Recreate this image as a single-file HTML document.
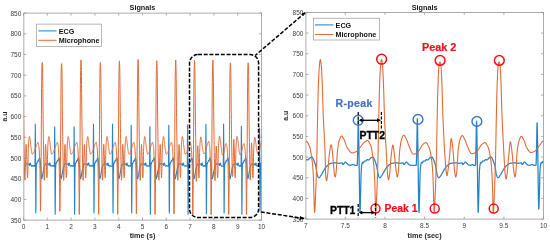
<!DOCTYPE html>
<html lang="en"><head><meta charset="utf-8"><title>Signals</title>
<style>html,body{margin:0;padding:0;background:#fff;}svg{display:block;}text{font-family:'Liberation Sans', Arial, sans-serif;}.tk{font-size:6.5px;fill:#3c3c3c;}.b{font-weight:bold;}</style></head><body>
<svg width="550" height="243" viewBox="0 0 550 243">
<rect width="550" height="243" fill="#ffffff"/>
<g>
<clipPath id="cl"><rect x="23.85" y="13.1" width="237.75" height="207.00"/></clipPath>
<g clip-path="url(#cl)" fill="none" stroke-linejoin="round">
<path d="M23.50 173.18 L23.60 172.61 L23.69 172.08 L23.79 171.56 L23.88 171.04 L23.98 170.52 L24.07 170.00 L24.17 169.49 L24.26 169.00 L24.36 168.53 L24.45 168.09 L24.55 167.69 L24.64 167.34 L24.74 167.03 L24.83 166.73 L24.93 166.44 L25.02 166.15 L25.12 165.88 L25.21 165.62 L25.31 165.37 L25.40 165.13 L25.50 164.92 L25.59 164.73 L25.69 164.56 L25.78 164.42 L25.88 164.31 L25.98 164.23 L26.07 164.17 L26.17 164.12 L26.26 164.07 L26.36 164.03 L26.45 163.99 L26.55 163.95 L26.64 163.91 L26.74 163.88 L26.83 163.86 L26.93 163.84 L27.02 163.82 L27.12 163.81 L27.21 163.80 L27.31 163.80 L27.40 163.81 L27.50 163.83 L27.59 163.86 L27.69 163.90 L27.78 163.95 L27.88 164.00 L27.97 164.04 L28.07 164.09 L28.16 164.13 L28.26 164.17 L28.36 164.19 L28.45 164.21 L28.55 164.21 L28.64 164.17 L28.74 164.12 L28.83 164.05 L28.93 163.98 L29.02 163.91 L29.12 163.85 L29.21 163.81 L29.31 163.80 L29.40 164.21 L29.50 164.97 L29.59 165.44 L29.69 165.31 L29.78 164.92 L29.88 164.45 L29.97 164.06 L30.07 163.63 L30.16 163.23 L30.26 162.99 L30.35 163.01 L30.45 163.20 L30.54 163.51 L30.64 163.85 L30.74 164.18 L30.83 164.49 L30.93 164.86 L31.02 165.24 L31.12 165.57 L31.21 165.80 L31.31 165.92 L31.40 166.01 L31.50 166.08 L31.59 166.14 L31.69 166.18 L31.78 166.20 L31.88 166.17 L31.97 166.10 L32.07 165.99 L32.16 165.86 L32.26 165.72 L32.35 165.60 L32.45 165.51 L32.54 165.46 L32.64 165.47 L32.73 165.53 L32.83 165.64 L32.92 165.76 L33.02 165.90 L33.12 166.03 L33.21 166.13 L33.31 166.19 L33.40 166.19 L33.50 166.14 L33.59 166.04 L33.69 165.91 L33.78 165.78 L33.88 165.65 L33.97 165.54 L34.07 165.47 L34.16 165.47 L34.26 165.80 L34.35 166.20 L34.45 166.28 L34.54 166.28 L34.64 166.28 L34.73 166.28 L34.83 166.28 L34.92 166.28 L35.02 164.46 L35.11 153.08 L35.21 137.71 L35.30 124.05 L35.40 133.69 L35.50 149.97 L35.59 172.69 L35.69 197.20 L35.78 212.87 L35.88 210.84 L35.97 198.30 L36.07 185.18 L36.16 173.00 L36.26 168.45 L36.35 165.93 L36.45 164.34 L36.54 163.43 L36.64 163.47 L36.73 163.70 L36.83 163.77 L36.92 163.27 L37.02 162.54 L37.11 162.13 L37.21 162.03 L37.30 161.97 L37.40 161.93 L37.49 161.89 L37.59 161.84 L37.68 161.75 L37.78 161.49 L37.88 160.95 L37.97 160.53 L38.07 160.50 L38.16 160.60 L38.26 160.72 L38.35 160.84 L38.45 160.90 L38.54 160.81 L38.64 160.52 L38.73 160.12 L38.83 159.67 L38.92 159.25 L39.02 158.92 L39.11 158.73 L39.21 158.55 L39.30 158.39 L39.40 158.25 L39.49 158.13 L39.59 158.05 L39.68 158.00 L39.78 158.07 L39.87 158.42 L39.97 159.00 L40.06 159.73 L40.16 160.52 L40.26 161.28 L40.35 162.04 L40.45 162.87 L40.54 163.78 L40.64 164.78 L40.73 165.88 L40.83 167.08 L40.92 168.54 L41.02 170.57 L41.11 172.79 L41.21 174.79 L41.30 176.15 L41.40 176.95 L41.49 177.67 L41.59 178.24 L41.68 178.60 L41.78 178.70 L41.87 178.57 L41.97 178.29 L42.06 177.90 L42.16 177.45 L42.25 176.98 L42.35 176.54 L42.44 176.07 L42.54 175.54 L42.64 174.98 L42.73 174.38 L42.83 173.78 L42.92 173.18 L43.02 172.61 L43.11 172.08 L43.21 171.56 L43.30 171.04 L43.40 170.52 L43.49 170.00 L43.59 169.49 L43.68 169.00 L43.78 168.53 L43.87 168.09 L43.97 167.69 L44.06 167.34 L44.16 167.03 L44.25 166.73 L44.35 166.44 L44.44 166.15 L44.54 165.88 L44.63 165.62 L44.73 165.37 L44.82 165.13 L44.92 164.92 L45.02 164.73 L45.11 164.56 L45.21 164.42 L45.30 164.31 L45.40 164.23 L45.49 164.17 L45.59 164.12 L45.68 164.07 L45.78 164.03 L45.87 163.99 L45.97 163.95 L46.06 163.91 L46.16 163.88 L46.25 163.86 L46.35 163.84 L46.44 163.82 L46.54 163.81 L46.63 163.80 L46.73 163.80 L46.82 163.81 L46.92 163.83 L47.01 163.86 L47.11 163.90 L47.20 163.95 L47.30 164.00 L47.40 164.04 L47.49 164.09 L47.59 164.13 L47.68 164.17 L47.78 164.19 L47.87 164.21 L47.97 164.21 L48.06 164.17 L48.16 164.12 L48.25 164.05 L48.35 163.98 L48.44 163.91 L48.54 163.85 L48.63 163.81 L48.73 163.80 L48.82 164.21 L48.92 164.97 L49.01 165.44 L49.11 165.31 L49.20 164.92 L49.30 164.45 L49.39 164.06 L49.49 163.63 L49.58 163.23 L49.68 162.99 L49.78 163.01 L49.87 163.20 L49.97 163.51 L50.06 163.85 L50.16 164.18 L50.25 164.49 L50.35 164.86 L50.44 165.24 L50.54 165.57 L50.63 165.80 L50.73 165.92 L50.82 166.01 L50.92 166.08 L51.01 166.14 L51.11 166.18 L51.20 166.20 L51.30 166.17 L51.39 166.10 L51.49 165.99 L51.58 165.86 L51.68 165.72 L51.77 165.60 L51.87 165.51 L51.96 165.46 L52.06 165.47 L52.16 165.53 L52.25 165.64 L52.35 165.76 L52.44 165.90 L52.54 166.03 L52.63 166.13 L52.73 166.19 L52.82 166.19 L52.92 166.14 L53.01 166.04 L53.11 165.91 L53.20 165.78 L53.30 165.65 L53.39 165.54 L53.49 165.47 L53.58 165.48 L53.68 165.92 L53.77 166.28 L53.87 166.28 L53.96 166.28 L54.06 166.28 L54.15 166.28 L54.25 166.28 L54.34 166.28 L54.44 159.52 L54.54 146.66 L54.63 128.37 L54.73 126.89 L54.82 141.94 L54.92 160.45 L55.01 185.39 L55.11 206.80 L55.20 214.12 L55.30 204.93 L55.39 192.27 L55.49 178.18 L55.58 170.39 L55.68 166.99 L55.77 165.10 L55.87 163.76 L55.96 163.39 L56.06 163.59 L56.15 163.78 L56.25 163.59 L56.34 162.90 L56.44 162.26 L56.53 162.08 L56.63 162.00 L56.72 161.95 L56.82 161.91 L56.92 161.87 L57.01 161.80 L57.11 161.67 L57.20 161.23 L57.30 160.70 L57.39 160.48 L57.49 160.54 L57.58 160.66 L57.68 160.79 L57.77 160.88 L57.87 160.88 L57.96 160.68 L58.06 160.33 L58.15 159.90 L58.25 159.45 L58.34 159.07 L58.44 158.81 L58.53 158.64 L58.63 158.47 L58.72 158.32 L58.82 158.18 L58.91 158.08 L59.01 158.02 L59.10 158.00 L59.20 158.21 L59.30 158.69 L59.39 159.35 L59.49 160.12 L59.58 160.91 L59.68 161.66 L59.77 162.45 L59.87 163.32 L59.96 164.27 L60.06 165.32 L60.15 166.46 L60.25 167.73 L60.34 169.51 L60.44 171.69 L60.53 173.85 L60.63 175.58 L60.72 176.56 L60.82 177.32 L60.91 177.98 L61.01 178.45 L61.10 178.69 L61.20 178.65 L61.29 178.44 L61.39 178.10 L61.48 177.68 L61.58 177.21 L61.68 176.76 L61.77 176.32 L61.87 175.82 L61.96 175.26 L62.06 174.68 L62.15 174.08 L62.25 173.48 L62.34 172.89 L62.44 172.34 L62.53 171.82 L62.63 171.30 L62.72 170.78 L62.82 170.26 L62.91 169.74 L63.01 169.24 L63.10 168.76 L63.20 168.31 L63.29 167.89 L63.39 167.51 L63.48 167.17 L63.58 166.88 L63.67 166.58 L63.77 166.30 L63.86 166.02 L63.96 165.75 L64.06 165.49 L64.15 165.25 L64.25 165.02 L64.34 164.82 L64.44 164.64 L64.53 164.49 L64.63 164.36 L64.72 164.26 L64.82 164.20 L64.91 164.15 L65.01 164.10 L65.10 164.05 L65.20 164.01 L65.29 163.97 L65.39 163.93 L65.48 163.90 L65.58 163.87 L65.67 163.85 L65.77 163.83 L65.86 163.81 L65.96 163.80 L66.05 163.80 L66.15 163.80 L66.24 163.82 L66.34 163.84 L66.44 163.88 L66.53 163.92 L66.63 163.97 L66.72 164.02 L66.82 164.07 L66.91 164.11 L67.01 164.15 L67.10 164.18 L67.20 164.20 L67.29 164.21 L67.39 164.19 L67.48 164.15 L67.58 164.09 L67.67 164.02 L67.77 163.95 L67.86 163.88 L67.96 163.83 L68.05 163.80 L68.15 163.92 L68.24 164.58 L68.34 165.28 L68.43 165.42 L68.53 165.14 L68.62 164.68 L68.72 164.24 L68.82 163.85 L68.91 163.42 L69.01 163.08 L69.10 162.97 L69.20 163.09 L69.29 163.34 L69.39 163.68 L69.48 164.02 L69.58 164.33 L69.67 164.68 L69.77 165.05 L69.86 165.41 L69.96 165.70 L70.05 165.87 L70.15 165.96 L70.24 166.05 L70.34 166.11 L70.43 166.16 L70.53 166.19 L70.62 166.19 L70.72 166.14 L70.81 166.05 L70.91 165.93 L71.00 165.79 L71.10 165.66 L71.20 165.55 L71.29 165.47 L71.39 165.45 L71.48 165.49 L71.58 165.58 L71.67 165.70 L71.77 165.83 L71.86 165.96 L71.96 166.08 L72.05 166.16 L72.15 166.20 L72.24 166.17 L72.34 166.09 L72.43 165.98 L72.53 165.85 L72.62 165.71 L72.72 165.59 L72.81 165.50 L72.91 165.45 L73.00 165.60 L73.10 166.02 L73.19 166.28 L73.29 166.28 L73.38 166.28 L73.48 166.28 L73.58 166.28 L73.67 166.28 L73.77 166.28 L73.86 159.52 L73.96 146.66 L74.05 128.37 L74.15 126.89 L74.24 141.94 L74.34 160.45 L74.43 185.39 L74.53 206.80 L74.62 214.12 L74.72 204.93 L74.81 192.27 L74.91 178.18 L75.00 170.39 L75.10 166.99 L75.19 165.10 L75.29 163.76 L75.38 163.39 L75.48 163.59 L75.57 163.78 L75.67 163.59 L75.76 162.90 L75.86 162.26 L75.96 162.08 L76.05 162.00 L76.15 161.95 L76.24 161.91 L76.34 161.87 L76.43 161.80 L76.53 161.67 L76.62 161.23 L76.72 160.70 L76.81 160.48 L76.91 160.54 L77.00 160.66 L77.10 160.79 L77.19 160.88 L77.29 160.88 L77.38 160.68 L77.48 160.33 L77.57 159.90 L77.67 159.45 L77.76 159.07 L77.86 158.81 L77.95 158.64 L78.05 158.47 L78.14 158.32 L78.24 158.18 L78.34 158.08 L78.43 158.02 L78.53 158.00 L78.62 158.21 L78.72 158.69 L78.81 159.35 L78.91 160.12 L79.00 160.91 L79.10 161.66 L79.19 162.45 L79.29 163.32 L79.38 164.27 L79.48 165.32 L79.57 166.46 L79.67 167.73 L79.76 169.51 L79.86 171.69 L79.95 173.85 L80.05 175.58 L80.14 176.56 L80.24 177.32 L80.33 177.98 L80.43 178.45 L80.52 178.69 L80.62 178.65 L80.72 178.44 L80.81 178.10 L80.91 177.68 L81.00 177.21 L81.10 176.76 L81.19 176.32 L81.29 175.82 L81.38 175.26 L81.48 174.68 L81.57 174.08 L81.67 173.48 L81.76 172.89 L81.86 172.34 L81.95 171.82 L82.05 171.30 L82.14 170.78 L82.24 170.26 L82.33 169.74 L82.43 169.24 L82.52 168.76 L82.62 168.31 L82.71 167.89 L82.81 167.51 L82.90 167.17 L83.00 166.88 L83.10 166.58 L83.19 166.30 L83.29 166.02 L83.38 165.75 L83.48 165.49 L83.57 165.25 L83.67 165.02 L83.76 164.82 L83.86 164.64 L83.95 164.49 L84.05 164.36 L84.14 164.26 L84.24 164.20 L84.33 164.15 L84.43 164.10 L84.52 164.05 L84.62 164.01 L84.71 163.97 L84.81 163.93 L84.90 163.90 L85.00 163.87 L85.09 163.85 L85.19 163.83 L85.28 163.81 L85.38 163.80 L85.48 163.80 L85.57 163.80 L85.67 163.82 L85.76 163.84 L85.86 163.88 L85.95 163.92 L86.05 163.97 L86.14 164.02 L86.24 164.07 L86.33 164.11 L86.43 164.15 L86.52 164.18 L86.62 164.20 L86.71 164.21 L86.81 164.19 L86.90 164.15 L87.00 164.09 L87.09 164.02 L87.19 163.95 L87.28 163.88 L87.38 163.83 L87.47 163.80 L87.57 163.92 L87.66 164.58 L87.76 165.28 L87.86 165.42 L87.95 165.14 L88.05 164.68 L88.14 164.24 L88.24 163.85 L88.33 163.42 L88.43 163.08 L88.52 162.97 L88.62 163.09 L88.71 163.34 L88.81 163.68 L88.90 164.02 L89.00 164.33 L89.09 164.68 L89.19 165.05 L89.28 165.41 L89.38 165.70 L89.47 165.87 L89.57 165.96 L89.66 166.05 L89.76 166.11 L89.85 166.16 L89.95 166.19 L90.04 166.19 L90.14 166.14 L90.24 166.05 L90.33 165.93 L90.43 165.79 L90.52 165.66 L90.62 165.55 L90.71 165.47 L90.81 165.45 L90.90 165.49 L91.00 165.58 L91.09 165.70 L91.19 165.83 L91.28 165.96 L91.38 166.08 L91.47 166.16 L91.57 166.20 L91.66 166.17 L91.76 166.09 L91.85 165.98 L91.95 165.85 L92.04 165.71 L92.14 165.59 L92.23 165.50 L92.33 165.45 L92.42 165.66 L92.52 166.16 L92.62 166.28 L92.71 166.28 L92.81 166.28 L92.90 166.28 L93.00 166.28 L93.09 166.28 L93.19 164.46 L93.28 153.08 L93.38 137.71 L93.47 124.05 L93.57 133.69 L93.66 149.97 L93.76 172.69 L93.85 197.20 L93.95 212.87 L94.04 210.84 L94.14 198.30 L94.23 185.18 L94.33 173.00 L94.42 168.45 L94.52 165.93 L94.61 164.34 L94.71 163.43 L94.80 163.47 L94.90 163.70 L95.00 163.77 L95.09 163.27 L95.19 162.54 L95.28 162.13 L95.38 162.03 L95.47 161.97 L95.57 161.93 L95.66 161.89 L95.76 161.84 L95.85 161.75 L95.95 161.49 L96.04 160.95 L96.14 160.53 L96.23 160.50 L96.33 160.60 L96.42 160.72 L96.52 160.84 L96.61 160.90 L96.71 160.81 L96.80 160.52 L96.90 160.12 L96.99 159.67 L97.09 159.25 L97.18 158.92 L97.28 158.73 L97.38 158.55 L97.47 158.39 L97.57 158.25 L97.66 158.13 L97.76 158.05 L97.85 158.00 L97.95 158.07 L98.04 158.42 L98.14 159.00 L98.23 159.73 L98.33 160.52 L98.42 161.28 L98.52 162.04 L98.61 162.87 L98.71 163.78 L98.80 164.78 L98.90 165.88 L98.99 167.08 L99.09 168.54 L99.18 170.57 L99.28 172.79 L99.37 174.79 L99.47 176.15 L99.56 176.95 L99.66 177.67 L99.76 178.24 L99.85 178.60 L99.95 178.70 L100.04 178.57 L100.14 178.29 L100.23 177.90 L100.33 177.45 L100.42 176.98 L100.52 176.54 L100.61 176.07 L100.71 175.54 L100.80 174.98 L100.90 174.38 L100.99 173.78 L101.09 173.18 L101.18 172.61 L101.28 172.08 L101.37 171.56 L101.47 171.04 L101.56 170.52 L101.66 170.00 L101.75 169.49 L101.85 169.00 L101.94 168.53 L102.04 168.09 L102.14 167.69 L102.23 167.34 L102.33 167.03 L102.42 166.73 L102.52 166.44 L102.61 166.15 L102.71 165.88 L102.80 165.62 L102.90 165.37 L102.99 165.13 L103.09 164.92 L103.18 164.73 L103.28 164.56 L103.37 164.42 L103.47 164.31 L103.56 164.23 L103.66 164.17 L103.75 164.12 L103.85 164.07 L103.94 164.03 L104.04 163.99 L104.13 163.95 L104.23 163.91 L104.32 163.88 L104.42 163.86 L104.52 163.84 L104.61 163.82 L104.71 163.81 L104.80 163.80 L104.90 163.80 L104.99 163.81 L105.09 163.83 L105.18 163.86 L105.28 163.90 L105.37 163.95 L105.47 164.00 L105.56 164.04 L105.66 164.09 L105.75 164.13 L105.85 164.17 L105.94 164.19 L106.04 164.21 L106.13 164.21 L106.23 164.17 L106.32 164.12 L106.42 164.05 L106.51 163.98 L106.61 163.91 L106.70 163.85 L106.80 163.81 L106.90 163.80 L106.99 164.21 L107.09 164.97 L107.18 165.44 L107.28 165.31 L107.37 164.92 L107.47 164.45 L107.56 164.06 L107.66 163.63 L107.75 163.23 L107.85 162.99 L107.94 163.01 L108.04 163.20 L108.13 163.51 L108.23 163.85 L108.32 164.18 L108.42 164.49 L108.51 164.86 L108.61 165.24 L108.70 165.57 L108.80 165.80 L108.89 165.92 L108.99 166.01 L109.08 166.08 L109.18 166.14 L109.28 166.18 L109.37 166.20 L109.47 166.17 L109.56 166.10 L109.66 165.99 L109.75 165.86 L109.85 165.72 L109.94 165.60 L110.04 165.51 L110.13 165.46 L110.23 165.46 L110.32 165.52 L110.42 165.62 L110.51 165.74 L110.61 165.88 L110.70 166.00 L110.80 166.11 L110.89 166.18 L110.99 166.21 L111.08 166.23 L111.18 166.24 L111.27 166.26 L111.37 166.27 L111.46 166.28 L111.56 166.28 L111.66 166.28 L111.75 166.28 L111.85 166.28 L111.94 166.28 L112.04 166.28 L112.13 166.28 L112.23 164.46 L112.32 153.08 L112.42 137.71 L112.51 124.05 L112.61 133.69 L112.70 149.97 L112.80 172.69 L112.89 197.20 L112.99 212.87 L113.08 210.84 L113.18 198.30 L113.27 185.18 L113.37 173.00 L113.46 168.45 L113.56 165.93 L113.65 164.34 L113.75 163.43 L113.84 163.47 L113.94 163.70 L114.04 163.77 L114.13 163.27 L114.23 162.54 L114.32 162.13 L114.42 162.03 L114.51 161.97 L114.61 161.93 L114.70 161.89 L114.80 161.84 L114.89 161.75 L114.99 161.49 L115.08 160.95 L115.18 160.53 L115.27 160.50 L115.37 160.60 L115.46 160.72 L115.56 160.84 L115.65 160.90 L115.75 160.81 L115.84 160.52 L115.94 160.12 L116.03 159.67 L116.13 159.25 L116.22 158.92 L116.32 158.73 L116.42 158.55 L116.51 158.39 L116.61 158.25 L116.70 158.13 L116.80 158.05 L116.89 158.00 L116.99 158.07 L117.08 158.42 L117.18 159.00 L117.27 159.73 L117.37 160.52 L117.46 161.28 L117.56 162.04 L117.65 162.87 L117.75 163.78 L117.84 164.78 L117.94 165.88 L118.03 167.08 L118.13 168.54 L118.22 170.57 L118.32 172.79 L118.41 174.79 L118.51 176.15 L118.60 176.95 L118.70 177.67 L118.80 178.24 L118.89 178.60 L118.99 178.70 L119.08 178.57 L119.18 178.29 L119.27 177.90 L119.37 177.45 L119.46 176.98 L119.56 176.54 L119.65 176.07 L119.75 175.54 L119.84 174.98 L119.94 174.38 L120.03 173.78 L120.13 173.18 L120.22 172.61 L120.32 172.08 L120.41 171.56 L120.51 171.04 L120.60 170.52 L120.70 170.00 L120.79 169.49 L120.89 169.00 L120.98 168.53 L121.08 168.09 L121.18 167.69 L121.27 167.34 L121.37 167.03 L121.46 166.73 L121.56 166.44 L121.65 166.15 L121.75 165.88 L121.84 165.62 L121.94 165.37 L122.03 165.13 L122.13 164.92 L122.22 164.73 L122.32 164.56 L122.41 164.42 L122.51 164.31 L122.60 164.23 L122.70 164.17 L122.79 164.12 L122.89 164.07 L122.98 164.03 L123.08 163.99 L123.17 163.95 L123.27 163.91 L123.36 163.88 L123.46 163.86 L123.56 163.84 L123.65 163.82 L123.75 163.81 L123.84 163.80 L123.94 163.80 L124.03 163.81 L124.13 163.83 L124.22 163.86 L124.32 163.90 L124.41 163.95 L124.51 164.00 L124.60 164.04 L124.70 164.09 L124.79 164.13 L124.89 164.17 L124.98 164.19 L125.08 164.21 L125.17 164.21 L125.27 164.17 L125.36 164.12 L125.46 164.05 L125.55 163.98 L125.65 163.91 L125.74 163.85 L125.84 163.81 L125.94 163.80 L126.03 164.21 L126.13 164.97 L126.22 165.44 L126.32 165.31 L126.41 164.92 L126.51 164.45 L126.60 164.06 L126.70 163.63 L126.79 163.23 L126.89 162.99 L126.98 163.01 L127.08 163.20 L127.17 163.51 L127.27 163.85 L127.36 164.18 L127.46 164.49 L127.55 164.86 L127.65 165.24 L127.74 165.57 L127.84 165.80 L127.93 165.92 L128.03 166.01 L128.12 166.08 L128.22 166.14 L128.32 166.18 L128.41 166.20 L128.51 166.17 L128.60 166.10 L128.70 165.99 L128.79 165.86 L128.89 165.72 L128.98 165.60 L129.08 165.51 L129.17 165.46 L129.27 165.46 L129.36 165.52 L129.46 165.61 L129.55 165.73 L129.65 165.86 L129.74 165.98 L129.84 166.09 L129.93 166.17 L130.03 166.21 L130.12 166.25 L130.22 166.27 L130.31 166.28 L130.41 166.28 L130.50 166.28 L130.60 166.28 L130.70 166.28 L130.79 166.28 L130.89 165.86 L130.98 156.38 L131.08 142.57 L131.17 125.24 L131.27 129.95 L131.36 145.81 L131.46 166.43 L131.55 191.48 L131.65 210.36 L131.74 212.93 L131.84 201.59 L131.93 188.82 L132.03 175.25 L132.12 169.36 L132.22 166.41 L132.31 164.70 L132.41 163.56 L132.50 163.42 L132.60 163.65 L132.69 163.80 L132.79 163.44 L132.88 162.72 L132.98 162.17 L133.08 162.05 L133.17 161.98 L133.27 161.94 L133.36 161.90 L133.46 161.86 L133.55 161.78 L133.65 161.59 L133.74 161.09 L133.84 160.60 L133.93 160.49 L134.03 160.57 L134.12 160.69 L134.22 160.81 L134.31 160.89 L134.41 160.85 L134.50 160.61 L134.60 160.23 L134.69 159.78 L134.79 159.35 L134.88 158.99 L134.98 158.77 L135.07 158.60 L135.17 158.43 L135.26 158.28 L135.36 158.16 L135.46 158.06 L135.55 158.01 L135.65 158.03 L135.74 158.31 L135.84 158.84 L135.93 159.54 L136.03 160.32 L136.12 161.10 L136.22 161.85 L136.31 162.66 L136.41 163.55 L136.50 164.52 L136.60 165.59 L136.69 166.77 L136.79 168.12 L136.88 170.03 L136.98 172.24 L137.07 174.34 L137.17 175.89 L137.26 176.76 L137.36 177.50 L137.45 178.11 L137.55 178.53 L137.64 178.70 L137.74 178.61 L137.84 178.37 L137.93 178.00 L138.03 177.56 L138.12 177.10 L138.22 176.65 L138.31 176.20 L138.41 175.68 L138.50 175.12 L138.60 174.53 L138.69 173.93 L138.79 173.33 L138.88 172.75 L138.98 172.20 L139.07 171.69 L139.17 171.17 L139.26 170.65 L139.36 170.13 L139.45 169.61 L139.55 169.12 L139.64 168.64 L139.74 168.20 L139.83 167.79 L139.93 167.42 L140.02 167.10 L140.12 166.80 L140.22 166.51 L140.31 166.22 L140.41 165.95 L140.50 165.68 L140.60 165.43 L140.69 165.19 L140.79 164.97 L140.88 164.77 L140.98 164.60 L141.07 164.45 L141.17 164.33 L141.26 164.24 L141.36 164.19 L141.45 164.13 L141.55 164.09 L141.64 164.04 L141.74 164.00 L141.83 163.96 L141.93 163.92 L142.02 163.89 L142.12 163.86 L142.21 163.84 L142.31 163.82 L142.40 163.81 L142.50 163.80 L142.60 163.80 L142.69 163.80 L142.79 163.82 L142.88 163.85 L142.98 163.89 L143.07 163.94 L143.17 163.98 L143.26 164.03 L143.36 164.08 L143.45 164.12 L143.55 164.16 L143.64 164.19 L143.74 164.21 L143.83 164.21 L143.93 164.18 L144.02 164.14 L144.12 164.07 L144.21 164.00 L144.31 163.93 L144.40 163.87 L144.50 163.82 L144.59 163.80 L144.69 164.05 L144.78 164.78 L144.88 165.39 L144.98 165.38 L145.07 165.03 L145.17 164.56 L145.26 164.16 L145.36 163.74 L145.45 163.32 L145.55 163.03 L145.64 162.98 L145.74 163.14 L145.83 163.42 L145.93 163.76 L146.02 164.10 L146.12 164.41 L146.21 164.77 L146.31 165.15 L146.40 165.49 L146.50 165.75 L146.59 165.89 L146.69 165.98 L146.78 166.06 L146.88 166.13 L146.97 166.17 L147.07 166.20 L147.16 166.19 L147.26 166.12 L147.36 166.02 L147.45 165.89 L147.55 165.76 L147.64 165.63 L147.74 165.53 L147.83 165.46 L147.93 165.46 L148.02 165.50 L148.12 165.59 L148.21 165.70 L148.31 165.83 L148.40 165.95 L148.50 166.06 L148.59 166.15 L148.69 166.20 L148.78 166.24 L148.88 166.27 L148.97 166.28 L149.07 166.28 L149.16 166.28 L149.26 166.28 L149.35 166.28 L149.45 166.28 L149.54 166.28 L149.64 159.52 L149.74 146.66 L149.83 128.37 L149.93 126.89 L150.02 141.94 L150.12 160.45 L150.21 185.39 L150.31 206.80 L150.40 214.12 L150.50 204.93 L150.59 192.27 L150.69 178.18 L150.78 170.39 L150.88 166.99 L150.97 165.10 L151.07 163.76 L151.16 163.39 L151.26 163.59 L151.35 163.78 L151.45 163.59 L151.54 162.90 L151.64 162.26 L151.73 162.08 L151.83 162.00 L151.92 161.95 L152.02 161.91 L152.12 161.87 L152.21 161.80 L152.31 161.67 L152.40 161.23 L152.50 160.70 L152.59 160.48 L152.69 160.54 L152.78 160.66 L152.88 160.79 L152.97 160.88 L153.07 160.88 L153.16 160.68 L153.26 160.33 L153.35 159.90 L153.45 159.45 L153.54 159.07 L153.64 158.81 L153.73 158.64 L153.83 158.47 L153.92 158.32 L154.02 158.18 L154.11 158.08 L154.21 158.02 L154.30 158.00 L154.40 158.21 L154.50 158.69 L154.59 159.35 L154.69 160.12 L154.78 160.91 L154.88 161.66 L154.97 162.45 L155.07 163.32 L155.16 164.27 L155.26 165.32 L155.35 166.46 L155.45 167.73 L155.54 169.51 L155.64 171.69 L155.73 173.85 L155.83 175.58 L155.92 176.56 L156.02 177.32 L156.11 177.98 L156.21 178.45 L156.30 178.69 L156.40 178.65 L156.49 178.44 L156.59 178.10 L156.68 177.68 L156.78 177.21 L156.88 176.76 L156.97 176.32 L157.07 175.82 L157.16 175.26 L157.26 174.68 L157.35 174.08 L157.45 173.48 L157.54 172.89 L157.64 172.34 L157.73 171.82 L157.83 171.30 L157.92 170.78 L158.02 170.26 L158.11 169.74 L158.21 169.24 L158.30 168.76 L158.40 168.31 L158.49 167.89 L158.59 167.51 L158.68 167.17 L158.78 166.88 L158.87 166.58 L158.97 166.30 L159.06 166.02 L159.16 165.75 L159.26 165.49 L159.35 165.25 L159.45 165.02 L159.54 164.82 L159.64 164.64 L159.73 164.49 L159.83 164.36 L159.92 164.26 L160.02 164.20 L160.11 164.15 L160.21 164.10 L160.30 164.05 L160.40 164.01 L160.49 163.97 L160.59 163.93 L160.68 163.90 L160.78 163.87 L160.87 163.85 L160.97 163.83 L161.06 163.81 L161.16 163.80 L161.25 163.80 L161.35 163.80 L161.44 163.82 L161.54 163.84 L161.64 163.88 L161.73 163.92 L161.83 163.97 L161.92 164.02 L162.02 164.07 L162.11 164.11 L162.21 164.15 L162.30 164.18 L162.40 164.20 L162.49 164.21 L162.59 164.19 L162.68 164.15 L162.78 164.09 L162.87 164.02 L162.97 163.95 L163.06 163.88 L163.16 163.83 L163.25 163.80 L163.35 163.92 L163.44 164.58 L163.54 165.28 L163.63 165.42 L163.73 165.14 L163.82 164.68 L163.92 164.24 L164.02 163.85 L164.11 163.42 L164.21 163.08 L164.30 162.97 L164.40 163.09 L164.49 163.34 L164.59 163.68 L164.68 164.02 L164.78 164.33 L164.87 164.68 L164.97 165.05 L165.06 165.41 L165.16 165.70 L165.25 165.87 L165.35 165.96 L165.44 166.05 L165.54 166.11 L165.63 166.16 L165.73 166.19 L165.82 166.19 L165.92 166.14 L166.01 166.05 L166.11 165.93 L166.20 165.79 L166.30 165.66 L166.40 165.55 L166.49 165.47 L166.59 165.45 L166.68 165.49 L166.78 165.57 L166.87 165.68 L166.97 165.81 L167.06 165.94 L167.16 166.05 L167.25 166.14 L167.35 166.20 L167.44 166.22 L167.54 166.24 L167.63 166.26 L167.73 166.27 L167.82 166.28 L167.92 166.28 L168.01 166.28 L168.11 166.28 L168.20 166.28 L168.30 166.28 L168.39 166.28 L168.49 165.86 L168.58 156.38 L168.68 142.57 L168.78 125.24 L168.87 129.95 L168.97 145.81 L169.06 166.43 L169.16 191.48 L169.25 210.36 L169.35 212.93 L169.44 201.59 L169.54 188.82 L169.63 175.25 L169.73 169.36 L169.82 166.41 L169.92 164.70 L170.01 163.56 L170.11 163.42 L170.20 163.65 L170.30 163.80 L170.39 163.44 L170.49 162.72 L170.58 162.17 L170.68 162.05 L170.77 161.98 L170.87 161.94 L170.96 161.90 L171.06 161.86 L171.16 161.78 L171.25 161.59 L171.35 161.09 L171.44 160.60 L171.54 160.49 L171.63 160.57 L171.73 160.69 L171.82 160.81 L171.92 160.89 L172.01 160.85 L172.11 160.61 L172.20 160.23 L172.30 159.78 L172.39 159.35 L172.49 158.99 L172.58 158.77 L172.68 158.60 L172.77 158.43 L172.87 158.28 L172.96 158.16 L173.06 158.06 L173.15 158.01 L173.25 158.03 L173.34 158.31 L173.44 158.84 L173.54 159.54 L173.63 160.32 L173.73 161.10 L173.82 161.85 L173.92 162.66 L174.01 163.55 L174.11 164.52 L174.20 165.59 L174.30 166.77 L174.39 168.12 L174.49 170.03 L174.58 172.24 L174.68 174.34 L174.77 175.89 L174.87 176.76 L174.96 177.50 L175.06 178.11 L175.15 178.53 L175.25 178.70 L175.34 178.61 L175.44 178.37 L175.53 178.00 L175.63 177.56 L175.72 177.10 L175.82 176.65 L175.92 176.20 L176.01 175.68 L176.11 175.12 L176.20 174.53 L176.30 173.93 L176.39 173.33 L176.49 172.75 L176.58 172.20 L176.68 171.69 L176.77 171.17 L176.87 170.65 L176.96 170.13 L177.06 169.61 L177.15 169.12 L177.25 168.64 L177.34 168.20 L177.44 167.79 L177.53 167.42 L177.63 167.10 L177.72 166.80 L177.82 166.51 L177.91 166.22 L178.01 165.95 L178.10 165.68 L178.20 165.43 L178.30 165.19 L178.39 164.97 L178.49 164.77 L178.58 164.60 L178.68 164.45 L178.77 164.33 L178.87 164.24 L178.96 164.19 L179.06 164.13 L179.15 164.09 L179.25 164.04 L179.34 164.00 L179.44 163.96 L179.53 163.92 L179.63 163.89 L179.72 163.86 L179.82 163.84 L179.91 163.82 L180.01 163.81 L180.10 163.80 L180.20 163.80 L180.29 163.80 L180.39 163.82 L180.48 163.85 L180.58 163.89 L180.68 163.94 L180.77 163.98 L180.87 164.03 L180.96 164.08 L181.06 164.12 L181.15 164.16 L181.25 164.19 L181.34 164.21 L181.44 164.21 L181.53 164.18 L181.63 164.14 L181.72 164.07 L181.82 164.00 L181.91 163.93 L182.01 163.87 L182.10 163.82 L182.20 163.80 L182.29 164.05 L182.39 164.78 L182.48 165.39 L182.58 165.38 L182.67 165.03 L182.77 164.56 L182.86 164.16 L182.96 163.74 L183.06 163.32 L183.15 163.03 L183.25 162.98 L183.34 163.14 L183.44 163.42 L183.53 163.76 L183.63 164.10 L183.72 164.41 L183.82 164.77 L183.91 165.15 L184.01 165.49 L184.10 165.75 L184.20 165.89 L184.29 165.98 L184.39 166.06 L184.48 166.13 L184.58 166.17 L184.67 166.20 L184.77 166.19 L184.86 166.12 L184.96 166.02 L185.05 165.89 L185.15 165.76 L185.24 165.63 L185.34 165.53 L185.44 165.46 L185.53 165.46 L185.63 165.50 L185.72 165.59 L185.82 165.71 L185.91 165.83 L186.01 165.96 L186.10 166.07 L186.20 166.16 L186.29 166.20 L186.39 166.23 L186.48 166.25 L186.58 166.27 L186.67 166.28 L186.77 166.28 L186.86 166.28 L186.96 166.28 L187.05 166.28 L187.15 166.28 L187.24 166.28 L187.34 162.28 L187.43 149.80 L187.53 132.75 L187.62 124.81 L187.72 137.79 L187.82 154.90 L187.91 179.07 L188.01 202.36 L188.10 214.16 L188.20 208.10 L188.29 195.30 L188.39 181.56 L188.48 171.55 L188.58 167.66 L188.67 165.51 L188.77 164.02 L188.86 163.38 L188.96 163.53 L189.05 163.75 L189.15 163.70 L189.24 163.09 L189.34 162.39 L189.43 162.10 L189.53 162.01 L189.62 161.96 L189.72 161.92 L189.81 161.88 L189.91 161.82 L190.00 161.72 L190.10 161.36 L190.20 160.82 L190.29 160.49 L190.39 160.52 L190.48 160.63 L190.58 160.76 L190.67 160.86 L190.77 160.90 L190.86 160.75 L190.96 160.43 L191.05 160.01 L191.15 159.56 L191.24 159.15 L191.34 158.86 L191.43 158.68 L191.53 158.51 L191.62 158.35 L191.72 158.21 L191.81 158.10 L191.91 158.03 L192.00 158.00 L192.10 158.13 L192.19 158.55 L192.29 159.17 L192.38 159.92 L192.48 160.71 L192.58 161.47 L192.67 162.24 L192.77 163.09 L192.86 164.02 L192.96 165.05 L193.05 166.17 L193.15 167.40 L193.24 169.01 L193.34 171.13 L193.43 173.33 L193.53 175.21 L193.62 176.36 L193.72 177.14 L193.81 177.83 L193.91 178.35 L194.00 178.65 L194.10 178.68 L194.19 178.51 L194.29 178.20 L194.38 177.79 L194.48 177.33 L194.57 176.87 L194.67 176.43 L194.76 175.95 L194.86 175.41 L194.96 174.83 L195.05 174.23 L195.15 173.63 L195.24 173.03 L195.34 172.47 L195.43 171.95 L195.53 171.43 L195.62 170.91 L195.72 170.39 L195.81 169.87 L195.91 169.36 L196.00 168.88 L196.10 168.42 L196.19 167.99 L196.29 167.60 L196.38 167.25 L196.48 166.95 L196.57 166.66 L196.67 166.37 L196.76 166.08 L196.86 165.81 L196.95 165.55 L197.05 165.31 L197.14 165.08 L197.24 164.87 L197.34 164.68 L197.43 164.52 L197.53 164.39 L197.62 164.28 L197.72 164.21 L197.81 164.16 L197.91 164.11 L198.00 164.06 L198.10 164.02 L198.19 163.98 L198.29 163.94 L198.38 163.91 L198.48 163.88 L198.57 163.85 L198.67 163.83 L198.76 163.81 L198.86 163.80 L198.95 163.80 L199.05 163.80 L199.14 163.81 L199.24 163.84 L199.33 163.87 L199.43 163.91 L199.52 163.96 L199.62 164.01 L199.72 164.06 L199.81 164.10 L199.91 164.14 L200.00 164.18 L200.10 164.20 L200.19 164.21 L200.29 164.20 L200.38 164.16 L200.48 164.11 L200.57 164.04 L200.67 163.96 L200.76 163.90 L200.86 163.84 L200.95 163.80 L201.05 163.83 L201.14 164.39 L201.24 165.14 L201.33 165.45 L201.43 165.23 L201.52 164.80 L201.62 164.34 L201.71 163.96 L201.81 163.53 L201.90 163.15 L202.00 162.97 L202.10 163.04 L202.19 163.27 L202.29 163.59 L202.38 163.94 L202.48 164.25 L202.57 164.58 L202.67 164.96 L202.76 165.33 L202.86 165.64 L202.95 165.84 L203.05 165.94 L203.14 166.03 L203.24 166.10 L203.33 166.15 L203.43 166.19 L203.52 166.20 L203.62 166.16 L203.71 166.08 L203.81 165.96 L203.90 165.82 L204.00 165.69 L204.09 165.57 L204.19 165.49 L204.28 165.45 L204.38 165.49 L204.48 165.59 L204.57 165.74 L204.67 165.91 L204.76 166.07 L204.86 166.20 L204.95 166.27 L205.05 166.28 L205.14 166.28 L205.24 166.28 L205.33 166.28 L205.43 166.28 L205.52 166.28 L205.62 163.45 L205.71 151.42 L205.81 135.20 L205.90 124.25 L206.00 135.72 L206.09 152.35 L206.19 175.88 L206.28 199.86 L206.38 213.68 L206.47 209.53 L206.57 196.75 L206.66 183.36 L206.76 172.19 L206.86 168.04 L206.95 165.72 L207.05 164.18 L207.14 163.39 L207.24 163.50 L207.33 163.73 L207.43 163.74 L207.52 163.18 L207.62 162.46 L207.71 162.12 L207.81 162.02 L207.90 161.97 L208.00 161.93 L208.09 161.89 L208.19 161.83 L208.28 161.74 L208.38 161.43 L208.47 160.88 L208.57 160.51 L208.66 160.51 L208.76 160.61 L208.85 160.74 L208.95 160.85 L209.04 160.90 L209.14 160.78 L209.24 160.48 L209.33 160.07 L209.43 159.62 L209.52 159.20 L209.62 158.89 L209.71 158.70 L209.81 158.53 L209.90 158.37 L210.00 158.23 L210.09 158.12 L210.19 158.04 L210.28 158.00 L210.38 158.10 L210.47 158.49 L210.57 159.09 L210.66 159.82 L210.76 160.61 L210.85 161.38 L210.95 162.14 L211.04 162.98 L211.14 163.90 L211.23 164.91 L211.33 166.02 L211.42 167.24 L211.52 168.77 L211.62 170.85 L211.71 173.07 L211.81 175.01 L211.90 176.26 L212.00 177.05 L212.09 177.75 L212.19 178.30 L212.28 178.63 L212.38 178.69 L212.47 178.54 L212.57 178.24 L212.66 177.84 L212.76 177.39 L212.85 176.93 L212.95 176.49 L213.04 176.01 L213.14 175.48 L213.23 174.90 L213.33 174.31 L213.42 173.70 L213.52 173.11 L213.61 172.54 L213.71 172.01 L213.80 171.50 L213.90 170.97 L214.00 170.45 L214.09 169.93 L214.19 169.43 L214.28 168.94 L214.38 168.47 L214.47 168.04 L214.57 167.65 L214.66 167.29 L214.76 166.99 L214.85 166.69 L214.95 166.40 L215.04 166.12 L215.14 165.85 L215.23 165.58 L215.33 165.34 L215.42 165.10 L215.52 164.89 L215.61 164.70 L215.71 164.54 L215.80 164.40 L215.90 164.29 L215.99 164.22 L216.09 164.17 L216.18 164.12 L216.28 164.07 L216.38 164.02 L216.47 163.98 L216.57 163.94 L216.66 163.91 L216.76 163.88 L216.85 163.85 L216.95 163.83 L217.04 163.82 L217.14 163.80 L217.23 163.80 L217.33 163.80 L217.42 163.81 L217.52 163.83 L217.61 163.87 L217.71 163.91 L217.80 163.95 L217.90 164.00 L217.99 164.05 L218.09 164.10 L218.18 164.14 L218.28 164.17 L218.37 164.20 L218.47 164.21 L218.56 164.20 L218.66 164.17 L218.76 164.11 L218.85 164.05 L218.95 163.97 L219.04 163.90 L219.14 163.85 L219.23 163.81 L219.33 163.81 L219.42 164.30 L219.52 165.06 L219.61 165.45 L219.71 165.27 L219.80 164.86 L219.90 164.39 L219.99 164.01 L220.09 163.58 L220.18 163.19 L220.28 162.98 L220.37 163.02 L220.47 163.23 L220.56 163.55 L220.66 163.90 L220.75 164.21 L220.85 164.54 L220.94 164.91 L221.04 165.28 L221.14 165.60 L221.23 165.82 L221.33 165.93 L221.42 166.01 L221.52 166.08 L221.61 166.13 L221.71 166.17 L221.80 166.20 L221.90 166.21 L221.99 166.23 L222.09 166.24 L222.18 166.25 L222.28 166.26 L222.37 166.27 L222.47 166.27 L222.56 166.28 L222.66 166.28 L222.75 166.28 L222.85 166.28 L222.94 166.28 L223.04 166.28 L223.13 166.28 L223.23 166.28 L223.32 164.46 L223.42 153.08 L223.52 137.71 L223.61 124.05 L223.71 133.69 L223.80 149.97 L223.90 172.69 L223.99 197.20 L224.09 212.87 L224.18 210.84 L224.28 198.30 L224.37 185.18 L224.47 173.00 L224.56 168.45 L224.66 165.93 L224.75 164.34 L224.85 163.43 L224.94 163.47 L225.04 163.70 L225.13 163.77 L225.23 163.27 L225.32 162.54 L225.42 162.13 L225.51 162.03 L225.61 161.97 L225.70 161.93 L225.80 161.89 L225.90 161.84 L225.99 161.75 L226.09 161.49 L226.18 160.95 L226.28 160.53 L226.37 160.50 L226.47 160.60 L226.56 160.72 L226.66 160.84 L226.75 160.90 L226.85 160.81 L226.94 160.52 L227.04 160.12 L227.13 159.67 L227.23 159.25 L227.32 158.92 L227.42 158.73 L227.51 158.55 L227.61 158.39 L227.70 158.25 L227.80 158.13 L227.89 158.05 L227.99 158.00 L228.08 158.07 L228.18 158.42 L228.28 159.00 L228.37 159.73 L228.47 160.52 L228.56 161.28 L228.66 162.04 L228.75 162.87 L228.85 163.78 L228.94 164.78 L229.04 165.88 L229.13 167.08 L229.23 168.54 L229.32 170.57 L229.42 172.79 L229.51 174.79 L229.61 176.15 L229.70 176.95 L229.80 177.67 L229.89 178.24 L229.99 178.60 L230.08 178.70 L230.18 178.57 L230.27 178.29 L230.37 177.90 L230.46 177.45 L230.56 176.98 L230.66 176.54 L230.75 176.07 L230.85 175.54 L230.94 174.98 L231.04 174.38 L231.13 173.78 L231.23 173.18 L231.32 172.61 L231.42 172.08 L231.51 171.56 L231.61 171.04 L231.70 170.52 L231.80 170.00 L231.89 169.49 L231.99 169.00 L232.08 168.53 L232.18 168.09 L232.27 167.69 L232.37 167.34 L232.46 167.03 L232.56 166.73 L232.65 166.44 L232.75 166.15 L232.84 165.88 L232.94 165.62 L233.04 165.37 L233.13 165.13 L233.23 164.92 L233.32 164.73 L233.42 164.56 L233.51 164.42 L233.61 164.31 L233.70 164.23 L233.80 164.17 L233.89 164.12 L233.99 164.07 L234.08 164.03 L234.18 163.99 L234.27 163.95 L234.37 163.91 L234.46 163.88 L234.56 163.86 L234.65 163.84 L234.75 163.82 L234.84 163.81 L234.94 163.80 L235.03 163.80 L235.13 163.81 L235.22 163.83 L235.32 163.86 L235.42 163.90 L235.51 163.95 L235.61 164.00 L235.70 164.04 L235.80 164.09 L235.89 164.13 L235.99 164.17 L236.08 164.19 L236.18 164.21 L236.27 164.21 L236.37 164.17 L236.46 164.12 L236.56 164.05 L236.65 163.98 L236.75 163.91 L236.84 163.85 L236.94 163.81 L237.03 163.80 L237.13 164.21 L237.22 164.97 L237.32 165.44 L237.41 165.31 L237.51 164.92 L237.60 164.45 L237.70 164.06 L237.80 163.63 L237.89 163.23 L237.99 162.99 L238.08 163.01 L238.18 163.20 L238.27 163.51 L238.37 163.85 L238.46 164.18 L238.56 164.49 L238.65 164.86 L238.75 165.24 L238.84 165.57 L238.94 165.80 L239.03 165.92 L239.13 166.01 L239.22 166.08 L239.32 166.14 L239.41 166.18 L239.51 166.20 L239.60 166.17 L239.70 166.10 L239.79 165.99 L239.89 165.86 L239.98 165.72 L240.08 165.60 L240.18 165.51 L240.27 165.46 L240.37 165.67 L240.46 166.23 L240.56 166.28 L240.65 166.28 L240.75 166.28 L240.84 166.28 L240.94 166.28 L241.03 166.28 L241.13 162.22 L241.22 149.75 L241.32 133.71 L241.41 126.40 L241.51 138.30 L241.60 154.61 L241.70 178.68 L241.79 202.18 L241.89 214.16 L241.98 208.10 L242.08 195.30 L242.17 181.56 L242.27 171.55 L242.36 167.66 L242.46 165.51 L242.56 164.02 L242.65 163.38 L242.75 163.53 L242.84 163.75 L242.94 163.70 L243.03 163.09 L243.13 162.39 L243.22 162.10 L243.32 162.01 L243.41 161.96 L243.51 161.92 L243.60 161.88 L243.70 161.82 L243.79 161.72 L243.89 161.36 L243.98 160.82 L244.08 160.49 L244.17 160.52 L244.27 160.63 L244.36 160.76 L244.46 160.86 L244.55 160.90 L244.65 160.75 L244.74 160.43 L244.84 160.01 L244.94 159.56 L245.03 159.15 L245.13 158.86 L245.22 158.68 L245.32 158.51 L245.41 158.35 L245.51 158.21 L245.60 158.10 L245.70 158.03 L245.79 158.00 L245.89 158.13 L245.98 158.55 L246.08 159.17 L246.17 159.92 L246.27 160.71 L246.36 161.47 L246.46 162.24 L246.55 163.09 L246.65 164.02 L246.74 165.05 L246.84 166.17 L246.93 167.40 L247.03 169.01 L247.12 171.13 L247.22 173.33 L247.32 175.21 L247.41 176.36 L247.51 177.14 L247.60 177.83 L247.70 178.35 L247.79 178.65 L247.89 178.68 L247.98 178.51 L248.08 178.20 L248.17 177.79 L248.27 177.33 L248.36 176.87 L248.46 176.43 L248.55 175.95 L248.65 175.41 L248.74 174.83 L248.84 174.23 L248.93 173.63 L249.03 173.03 L249.12 172.47 L249.22 171.95 L249.31 171.43 L249.41 170.91 L249.50 170.39 L249.60 169.87 L249.70 169.36 L249.79 168.88 L249.89 168.42 L249.98 167.99 L250.08 167.60 L250.17 167.25 L250.27 166.95 L250.36 166.66 L250.46 166.37 L250.55 166.08 L250.65 165.81 L250.74 165.55 L250.84 165.31 L250.93 165.08 L251.03 164.87 L251.12 164.68 L251.22 164.52 L251.31 164.39 L251.41 164.28 L251.50 164.21 L251.60 164.16 L251.69 164.11 L251.79 164.06 L251.88 164.02 L251.98 163.98 L252.08 163.94 L252.17 163.91 L252.27 163.88 L252.36 163.85 L252.46 163.83 L252.55 163.81 L252.65 163.80 L252.74 163.80 L252.84 163.80 L252.93 163.81 L253.03 163.84 L253.12 163.87 L253.22 163.91 L253.31 163.96 L253.41 164.01 L253.50 164.06 L253.60 164.10 L253.69 164.14 L253.79 164.18 L253.88 164.20 L253.98 164.21 L254.07 164.20 L254.17 164.16 L254.26 164.11 L254.36 164.04 L254.46 163.96 L254.55 163.90 L254.65 163.84 L254.74 163.80 L254.84 163.83 L254.93 164.39 L255.03 165.14 L255.12 165.45 L255.22 165.23 L255.31 164.80 L255.41 164.34 L255.50 163.96 L255.60 163.53 L255.69 163.15 L255.79 162.97 L255.88 163.04 L255.98 163.27 L256.07 163.59 L256.17 163.94 L256.26 164.25 L256.36 164.58 L256.45 164.96 L256.55 165.33 L256.64 165.64 L256.74 165.84 L256.84 165.94 L256.93 166.03 L257.03 166.10 L257.12 166.15 L257.22 166.19 L257.31 166.20 L257.41 166.16 L257.50 166.08 L257.60 165.96 L257.69 165.82 L257.79 165.69 L257.88 165.57 L257.98 165.49 L258.07 165.45 L258.17 165.50 L258.26 165.64 L258.36 165.83 L258.45 166.02 L258.55 166.19 L258.64 166.27 L258.74 166.28 L258.83 166.28 L258.93 166.28 L259.02 166.28 L259.12 166.28 L259.22 166.28 L259.31 162.15 L259.41 149.69 L259.50 134.67 L259.60 127.99 L259.69 138.87 L259.79 154.05 L259.88 176.91 L259.98 199.37 L260.07 210.85 L260.17 206.04 L260.26 195.30 L260.36 181.82 L260.45 171.55 L260.55 167.66 L260.64 165.51 L260.74 164.02 L260.83 163.38 L260.93 163.53 L261.02 163.75 L261.12 163.70 L261.21 163.09 L261.31 162.39 L261.40 162.10 L261.50 162.01" stroke="#2583C7" stroke-width="1.1"/>
<path d="M23.50 98.96 L23.60 110.42 L23.69 119.43 L23.79 126.78 L23.88 133.39 L23.98 139.47 L24.07 145.24 L24.17 150.92 L24.26 156.86 L24.36 162.90 L24.45 168.48 L24.55 173.02 L24.64 176.05 L24.74 178.44 L24.83 180.06 L24.93 180.20 L25.02 178.85 L25.12 176.68 L25.21 174.31 L25.31 171.15 L25.40 167.26 L25.50 163.17 L25.59 159.45 L25.69 156.37 L25.78 153.16 L25.88 150.00 L25.98 147.24 L26.07 145.24 L26.17 144.35 L26.26 144.90 L26.36 146.60 L26.45 148.81 L26.55 151.00 L26.64 153.65 L26.74 156.79 L26.83 160.22 L26.93 163.74 L27.02 167.17 L27.12 170.29 L27.21 172.93 L27.31 174.90 L27.40 176.65 L27.50 177.78 L27.59 177.55 L27.69 176.16 L27.78 174.24 L27.88 170.67 L27.97 165.40 L28.07 159.57 L28.16 154.29 L28.26 150.70 L28.36 148.21 L28.45 146.00 L28.55 144.08 L28.64 142.48 L28.74 141.20 L28.83 140.23 L28.93 139.34 L29.02 138.51 L29.12 137.78 L29.21 137.18 L29.31 136.74 L29.40 136.50 L29.50 136.49 L29.59 136.67 L29.69 137.00 L29.78 137.44 L29.88 137.97 L29.97 138.55 L30.07 139.15 L30.16 139.74 L30.26 140.36 L30.35 141.12 L30.45 141.96 L30.54 142.87 L30.64 143.82 L30.74 144.76 L30.83 145.67 L30.93 146.52 L31.02 147.29 L31.12 147.94 L31.21 148.60 L31.31 149.28 L31.40 149.96 L31.50 150.64 L31.59 151.29 L31.69 151.91 L31.78 152.49 L31.88 153.00 L31.97 153.45 L32.07 153.81 L32.16 154.08 L32.26 154.23 L32.35 154.27 L32.45 154.25 L32.54 154.20 L32.64 154.13 L32.73 154.04 L32.83 153.93 L32.92 153.81 L33.02 153.67 L33.12 153.53 L33.21 153.38 L33.31 153.24 L33.40 153.10 L33.50 152.96 L33.59 152.81 L33.69 152.64 L33.78 152.47 L33.88 152.28 L33.97 152.09 L34.07 151.88 L34.16 151.67 L34.26 151.45 L34.35 151.22 L34.45 150.98 L34.54 150.74 L34.64 150.49 L34.73 150.23 L34.83 149.97 L34.92 149.71 L35.02 149.44 L35.11 149.17 L35.21 148.89 L35.30 148.62 L35.40 148.34 L35.50 148.06 L35.59 147.78 L35.69 147.51 L35.78 147.23 L35.88 146.95 L35.97 146.68 L36.07 146.41 L36.16 146.14 L36.26 145.88 L36.35 145.62 L36.45 145.37 L36.54 145.12 L36.64 144.88 L36.73 144.64 L36.83 144.42 L36.92 144.20 L37.02 143.99 L37.11 143.79 L37.21 143.60 L37.30 143.41 L37.40 143.21 L37.49 143.00 L37.59 142.79 L37.68 142.60 L37.78 142.44 L37.88 142.33 L37.97 142.27 L38.07 142.31 L38.16 142.50 L38.26 142.82 L38.35 143.27 L38.45 143.79 L38.54 144.39 L38.64 145.01 L38.73 145.65 L38.83 146.29 L38.92 147.02 L39.02 147.88 L39.11 148.92 L39.21 150.24 L39.30 152.02 L39.40 154.08 L39.49 156.17 L39.59 158.26 L39.68 160.48 L39.78 163.03 L39.87 166.06 L39.97 169.94 L40.06 175.63 L40.16 182.45 L40.26 192.29 L40.35 204.07 L40.45 211.14 L40.54 210.01 L40.64 205.12 L40.73 198.26 L40.83 191.07 L40.92 183.11 L41.02 173.36 L41.11 161.57 L41.21 147.59 L41.30 130.13 L41.40 114.23 L41.49 100.10 L41.59 88.53 L41.68 80.09 L41.78 72.91 L41.87 67.94 L41.97 65.45 L42.06 63.60 L42.16 62.52 L42.25 62.52 L42.35 63.60 L42.44 65.45 L42.54 67.96 L42.64 73.12 L42.73 80.38 L42.83 88.41 L42.92 98.96 L43.02 110.42 L43.11 119.43 L43.21 126.78 L43.30 133.39 L43.40 139.47 L43.49 145.24 L43.59 150.92 L43.68 156.86 L43.78 162.90 L43.87 168.48 L43.97 173.02 L44.06 176.05 L44.16 178.44 L44.25 180.06 L44.35 180.20 L44.44 178.85 L44.54 176.68 L44.63 174.31 L44.73 171.15 L44.82 167.26 L44.92 163.17 L45.02 159.45 L45.11 156.37 L45.21 153.16 L45.30 150.00 L45.40 147.24 L45.49 145.24 L45.59 144.35 L45.68 144.90 L45.78 146.60 L45.87 148.81 L45.97 151.00 L46.06 153.65 L46.16 156.79 L46.25 160.22 L46.35 163.74 L46.44 167.17 L46.54 170.29 L46.63 172.93 L46.73 174.90 L46.82 176.65 L46.92 177.78 L47.01 177.55 L47.11 176.16 L47.20 174.24 L47.30 170.67 L47.40 165.40 L47.49 159.57 L47.59 154.29 L47.68 150.70 L47.78 148.21 L47.87 146.00 L47.97 144.08 L48.06 142.48 L48.16 141.20 L48.25 140.23 L48.35 139.34 L48.44 138.51 L48.54 137.78 L48.63 137.18 L48.73 136.74 L48.82 136.50 L48.92 136.49 L49.01 136.67 L49.11 137.00 L49.20 137.44 L49.30 137.97 L49.39 138.55 L49.49 139.15 L49.58 139.74 L49.68 140.36 L49.78 141.12 L49.87 141.96 L49.97 142.87 L50.06 143.82 L50.16 144.76 L50.25 145.67 L50.35 146.52 L50.44 147.29 L50.54 147.94 L50.63 148.60 L50.73 149.28 L50.82 149.96 L50.92 150.64 L51.01 151.29 L51.11 151.91 L51.20 152.49 L51.30 153.00 L51.39 153.45 L51.49 153.81 L51.58 154.08 L51.68 154.23 L51.77 154.27 L51.87 154.25 L51.96 154.20 L52.06 154.13 L52.16 154.04 L52.25 153.93 L52.35 153.81 L52.44 153.67 L52.54 153.53 L52.63 153.39 L52.73 153.24 L52.82 153.10 L52.92 152.96 L53.01 152.80 L53.11 152.64 L53.20 152.46 L53.30 152.28 L53.39 152.08 L53.49 151.87 L53.58 151.65 L53.68 151.43 L53.77 151.19 L53.87 150.95 L53.96 150.71 L54.06 150.45 L54.15 150.19 L54.25 149.93 L54.34 149.66 L54.44 149.38 L54.54 149.11 L54.63 148.83 L54.73 148.55 L54.82 148.27 L54.92 147.98 L55.01 147.70 L55.11 147.42 L55.20 147.14 L55.30 146.86 L55.39 146.58 L55.49 146.31 L55.58 146.04 L55.68 145.78 L55.77 145.52 L55.87 145.26 L55.96 145.01 L56.06 144.77 L56.15 144.54 L56.25 144.31 L56.34 144.10 L56.44 143.89 L56.53 143.69 L56.63 143.50 L56.72 143.31 L56.82 143.10 L56.92 142.89 L57.01 142.69 L57.11 142.52 L57.20 142.38 L57.30 142.29 L57.39 142.27 L57.49 142.38 L57.58 142.64 L57.68 143.03 L57.77 143.52 L57.87 144.08 L57.96 144.70 L58.06 145.33 L58.15 145.96 L58.25 146.64 L58.34 147.43 L58.44 148.38 L58.53 149.52 L58.63 151.08 L58.72 153.03 L58.82 155.13 L58.91 157.21 L59.01 159.34 L59.10 161.70 L59.20 164.47 L59.30 167.82 L59.39 172.58 L59.49 178.96 L59.58 186.72 L59.68 198.35 L59.77 208.61 L59.87 211.20 L59.96 207.91 L60.06 201.84 L60.15 194.61 L60.25 187.35 L60.34 178.42 L60.44 167.75 L60.53 154.87 L60.63 139.10 L60.72 121.66 L60.82 106.99 L60.91 93.85 L61.01 84.17 L61.10 76.12 L61.20 69.84 L61.29 66.65 L61.39 65.08 L61.48 64.01 L61.58 63.61 L61.68 64.01 L61.77 65.08 L61.87 66.65 L61.96 69.95 L62.06 76.40 L62.15 84.33 L62.25 93.34 L62.34 104.80 L62.44 115.36 L62.53 123.21 L62.63 130.17 L62.72 136.49 L62.82 142.38 L62.91 148.08 L63.01 153.84 L63.10 159.90 L63.20 165.78 L63.29 170.92 L63.39 174.73 L63.48 177.29 L63.58 179.39 L63.67 180.35 L63.77 179.67 L63.86 177.83 L63.96 175.50 L64.06 172.86 L64.15 169.26 L64.25 165.20 L64.34 161.23 L64.44 157.89 L64.53 154.78 L64.63 151.55 L64.72 148.54 L64.82 146.12 L64.91 144.63 L65.01 144.44 L65.10 145.65 L65.20 147.68 L65.29 149.91 L65.39 152.25 L65.48 155.18 L65.58 158.48 L65.67 161.98 L65.77 165.48 L65.86 168.78 L65.96 171.68 L66.05 174.00 L66.15 175.79 L66.24 177.35 L66.34 177.85 L66.44 176.96 L66.53 175.24 L66.63 172.74 L66.72 168.17 L66.82 162.48 L66.91 156.79 L67.01 152.22 L67.10 149.42 L67.20 147.07 L67.29 145.00 L67.39 143.24 L67.48 141.79 L67.58 140.68 L67.67 139.78 L67.77 138.91 L67.86 138.13 L67.96 137.46 L68.05 136.94 L68.15 136.60 L68.24 136.47 L68.34 136.56 L68.43 136.82 L68.53 137.21 L68.62 137.70 L68.72 138.25 L68.82 138.85 L68.91 139.45 L69.01 140.03 L69.10 140.73 L69.20 141.53 L69.29 142.41 L69.39 143.34 L69.48 144.29 L69.58 145.22 L69.67 146.11 L69.77 146.92 L69.86 147.62 L69.96 148.27 L70.05 148.94 L70.15 149.62 L70.24 150.30 L70.34 150.97 L70.43 151.61 L70.53 152.20 L70.62 152.75 L70.72 153.23 L70.81 153.64 L70.91 153.96 L71.00 154.17 L71.10 154.27 L71.20 154.27 L71.29 154.23 L71.39 154.17 L71.48 154.09 L71.58 153.99 L71.67 153.87 L71.77 153.74 L71.86 153.60 L71.96 153.46 L72.05 153.31 L72.15 153.17 L72.24 153.03 L72.34 152.88 L72.43 152.73 L72.53 152.56 L72.62 152.38 L72.72 152.19 L72.81 151.99 L72.91 151.78 L73.00 151.56 L73.10 151.33 L73.19 151.10 L73.29 150.86 L73.38 150.61 L73.48 150.36 L73.58 150.10 L73.67 149.84 L73.77 149.57 L73.86 149.30 L73.96 149.03 L74.05 148.76 L74.15 148.48 L74.24 148.20 L74.34 147.92 L74.43 147.65 L74.53 147.37 L74.62 147.09 L74.72 146.82 L74.81 146.55 L74.91 146.28 L75.00 146.01 L75.10 145.75 L75.19 145.49 L75.29 145.24 L75.38 145.00 L75.48 144.76 L75.57 144.53 L75.67 144.31 L75.76 144.09 L75.86 143.89 L75.96 143.69 L76.05 143.50 L76.15 143.31 L76.24 143.10 L76.34 142.89 L76.43 142.69 L76.53 142.52 L76.62 142.38 L76.72 142.29 L76.81 142.27 L76.91 142.38 L77.00 142.64 L77.10 143.03 L77.19 143.52 L77.29 144.08 L77.38 144.70 L77.48 145.33 L77.57 145.96 L77.67 146.64 L77.76 147.43 L77.86 148.38 L77.95 149.52 L78.05 151.08 L78.14 153.03 L78.24 155.13 L78.34 157.21 L78.43 159.34 L78.53 161.70 L78.62 164.47 L78.72 167.82 L78.81 172.52 L78.91 178.86 L79.00 187.00 L79.10 199.93 L79.19 211.53 L79.29 214.47 L79.38 210.50 L79.48 203.30 L79.57 194.98 L79.67 187.19 L79.76 178.39 L79.86 167.75 L79.95 154.87 L80.05 139.10 L80.14 121.66 L80.24 106.99 L80.33 93.85 L80.43 84.21 L80.52 76.59 L80.62 70.52 L80.72 66.41 L80.81 63.25 L80.91 60.84 L81.00 59.88 L81.10 60.84 L81.19 63.25 L81.29 66.41 L81.38 70.62 L81.48 76.88 L81.57 84.37 L81.67 93.34 L81.76 104.80 L81.86 115.36 L81.95 123.21 L82.05 130.17 L82.14 136.49 L82.24 142.38 L82.33 148.08 L82.43 153.84 L82.52 159.90 L82.62 165.78 L82.71 170.92 L82.81 174.73 L82.90 177.29 L83.00 179.39 L83.10 180.35 L83.19 179.67 L83.29 177.83 L83.38 175.50 L83.48 172.86 L83.57 169.26 L83.67 165.20 L83.76 161.23 L83.86 157.89 L83.95 154.78 L84.05 151.55 L84.14 148.54 L84.24 146.12 L84.33 144.63 L84.43 144.44 L84.52 145.65 L84.62 147.68 L84.71 149.91 L84.81 152.25 L84.90 155.18 L85.00 158.48 L85.09 161.98 L85.19 165.48 L85.28 168.78 L85.38 171.68 L85.48 174.00 L85.57 175.79 L85.67 177.35 L85.76 177.85 L85.86 176.96 L85.95 175.24 L86.05 172.74 L86.14 168.17 L86.24 162.48 L86.33 156.79 L86.43 152.22 L86.52 149.42 L86.62 147.07 L86.71 145.00 L86.81 143.24 L86.90 141.79 L87.00 140.68 L87.09 139.78 L87.19 138.91 L87.28 138.13 L87.38 137.46 L87.47 136.94 L87.57 136.60 L87.66 136.47 L87.76 136.56 L87.86 136.82 L87.95 137.21 L88.05 137.70 L88.14 138.25 L88.24 138.85 L88.33 139.45 L88.43 140.03 L88.52 140.73 L88.62 141.53 L88.71 142.41 L88.81 143.34 L88.90 144.29 L89.00 145.22 L89.09 146.11 L89.19 146.92 L89.28 147.62 L89.38 148.27 L89.47 148.94 L89.57 149.62 L89.66 150.30 L89.76 150.97 L89.85 151.61 L89.95 152.20 L90.04 152.75 L90.14 153.23 L90.24 153.64 L90.33 153.96 L90.43 154.17 L90.52 154.27 L90.62 154.27 L90.71 154.23 L90.81 154.17 L90.90 154.09 L91.00 153.99 L91.09 153.87 L91.19 153.74 L91.28 153.60 L91.38 153.46 L91.47 153.31 L91.57 153.17 L91.66 153.03 L91.76 152.88 L91.85 152.72 L91.95 152.55 L92.04 152.37 L92.14 152.18 L92.23 151.98 L92.33 151.76 L92.42 151.54 L92.52 151.31 L92.62 151.08 L92.71 150.83 L92.81 150.58 L92.90 150.32 L93.00 150.06 L93.09 149.79 L93.19 149.52 L93.28 149.25 L93.38 148.97 L93.47 148.69 L93.57 148.41 L93.66 148.12 L93.76 147.84 L93.85 147.56 L93.95 147.28 L94.04 147.00 L94.14 146.72 L94.23 146.45 L94.33 146.18 L94.42 145.91 L94.52 145.65 L94.61 145.39 L94.71 145.14 L94.80 144.89 L94.90 144.65 L95.00 144.42 L95.09 144.20 L95.19 143.99 L95.28 143.79 L95.38 143.60 L95.47 143.41 L95.57 143.21 L95.66 142.99 L95.76 142.79 L95.85 142.60 L95.95 142.44 L96.04 142.33 L96.14 142.27 L96.23 142.31 L96.33 142.50 L96.42 142.82 L96.52 143.27 L96.61 143.79 L96.71 144.39 L96.80 145.01 L96.90 145.65 L96.99 146.29 L97.09 147.02 L97.18 147.88 L97.28 148.92 L97.38 150.24 L97.47 152.02 L97.57 154.08 L97.66 156.17 L97.76 158.26 L97.85 160.48 L97.95 163.03 L98.04 166.06 L98.14 169.92 L98.23 175.52 L98.33 182.44 L98.42 193.14 L98.52 206.38 L98.61 214.41 L98.71 213.02 L98.80 207.17 L98.90 199.15 L98.99 191.07 L99.09 182.98 L99.18 173.36 L99.28 161.57 L99.37 147.59 L99.47 130.13 L99.56 114.23 L99.66 100.10 L99.76 88.53 L99.85 80.09 L99.95 72.91 L100.04 67.94 L100.14 65.45 L100.23 63.60 L100.33 62.52 L100.42 62.52 L100.52 63.60 L100.61 65.45 L100.71 67.96 L100.80 73.12 L100.90 80.38 L100.99 88.41 L101.09 98.96 L101.18 110.42 L101.28 119.43 L101.37 126.78 L101.47 133.39 L101.56 139.47 L101.66 145.24 L101.75 150.92 L101.85 156.86 L101.94 162.90 L102.04 168.48 L102.14 173.02 L102.23 176.05 L102.33 178.44 L102.42 180.06 L102.52 180.20 L102.61 178.85 L102.71 176.68 L102.80 174.31 L102.90 171.15 L102.99 167.26 L103.09 163.17 L103.18 159.45 L103.28 156.37 L103.37 153.16 L103.47 150.00 L103.56 147.24 L103.66 145.24 L103.75 144.35 L103.85 144.90 L103.94 146.60 L104.04 148.81 L104.13 151.00 L104.23 153.65 L104.32 156.79 L104.42 160.22 L104.52 163.74 L104.61 167.17 L104.71 170.29 L104.80 172.93 L104.90 174.90 L104.99 176.65 L105.09 177.78 L105.18 177.55 L105.28 176.16 L105.37 174.24 L105.47 170.67 L105.56 165.40 L105.66 159.57 L105.75 154.29 L105.85 150.70 L105.94 148.21 L106.04 146.00 L106.13 144.08 L106.23 142.48 L106.32 141.20 L106.42 140.23 L106.51 139.34 L106.61 138.51 L106.70 137.78 L106.80 137.18 L106.90 136.74 L106.99 136.50 L107.09 136.49 L107.18 136.67 L107.28 137.00 L107.37 137.44 L107.47 137.97 L107.56 138.55 L107.66 139.15 L107.75 139.74 L107.85 140.36 L107.94 141.12 L108.04 141.96 L108.13 142.87 L108.23 143.82 L108.32 144.76 L108.42 145.67 L108.51 146.52 L108.61 147.29 L108.70 147.94 L108.80 148.60 L108.89 149.28 L108.99 149.96 L109.08 150.64 L109.18 151.29 L109.28 151.91 L109.37 152.49 L109.47 153.00 L109.56 153.45 L109.66 153.81 L109.75 154.08 L109.85 154.23 L109.94 154.27 L110.04 154.25 L110.13 154.21 L110.23 154.13 L110.32 154.04 L110.42 153.93 L110.51 153.81 L110.61 153.68 L110.70 153.54 L110.80 153.39 L110.89 153.24 L110.99 153.10 L111.08 152.95 L111.18 152.79 L111.27 152.62 L111.37 152.43 L111.46 152.22 L111.56 152.00 L111.66 151.77 L111.75 151.52 L111.85 151.26 L111.94 151.00 L112.04 150.72 L112.13 150.44 L112.23 150.15 L112.32 149.85 L112.42 149.55 L112.51 149.24 L112.61 148.93 L112.70 148.62 L112.80 148.31 L112.89 147.99 L112.99 147.68 L113.08 147.36 L113.18 147.05 L113.27 146.74 L113.37 146.44 L113.46 146.14 L113.56 145.84 L113.65 145.55 L113.75 145.27 L113.84 145.00 L113.94 144.74 L114.04 144.49 L114.13 144.24 L114.23 144.02 L114.32 143.80 L114.42 143.60 L114.51 143.41 L114.61 143.20 L114.70 142.99 L114.80 142.78 L114.89 142.60 L114.99 142.44 L115.08 142.33 L115.18 142.27 L115.27 142.31 L115.37 142.50 L115.46 142.82 L115.56 143.27 L115.65 143.79 L115.75 144.39 L115.84 145.01 L115.94 145.65 L116.03 146.29 L116.13 147.02 L116.22 147.88 L116.32 148.92 L116.42 150.24 L116.51 152.02 L116.61 154.08 L116.70 156.17 L116.80 158.26 L116.89 160.48 L116.99 163.03 L117.08 166.06 L117.18 169.92 L117.27 175.52 L117.37 182.44 L117.46 193.14 L117.56 206.38 L117.65 214.41 L117.75 213.02 L117.84 207.17 L117.94 199.15 L118.03 191.07 L118.13 182.98 L118.22 173.36 L118.32 161.57 L118.41 147.59 L118.51 130.13 L118.60 114.23 L118.70 100.10 L118.80 88.53 L118.89 80.19 L118.99 73.20 L119.08 68.12 L119.18 65.00 L119.27 62.47 L119.37 60.93 L119.46 60.93 L119.56 62.47 L119.65 65.00 L119.75 68.14 L119.84 73.41 L119.94 80.48 L120.03 88.41 L120.13 98.96 L120.22 110.42 L120.32 119.43 L120.41 126.78 L120.51 133.39 L120.60 139.47 L120.70 145.24 L120.79 150.92 L120.89 156.86 L120.98 162.90 L121.08 168.48 L121.18 173.02 L121.27 176.05 L121.37 178.44 L121.46 180.06 L121.56 180.20 L121.65 178.85 L121.75 176.68 L121.84 174.31 L121.94 171.15 L122.03 167.26 L122.13 163.17 L122.22 159.45 L122.32 156.37 L122.41 153.16 L122.51 150.00 L122.60 147.24 L122.70 145.24 L122.79 144.35 L122.89 144.90 L122.98 146.60 L123.08 148.81 L123.17 151.00 L123.27 153.65 L123.36 156.79 L123.46 160.22 L123.56 163.74 L123.65 167.17 L123.75 170.29 L123.84 172.93 L123.94 174.90 L124.03 176.65 L124.13 177.78 L124.22 177.55 L124.32 176.16 L124.41 174.24 L124.51 170.67 L124.60 165.40 L124.70 159.57 L124.79 154.29 L124.89 150.70 L124.98 148.21 L125.08 146.00 L125.17 144.08 L125.27 142.48 L125.36 141.20 L125.46 140.23 L125.55 139.34 L125.65 138.51 L125.74 137.78 L125.84 137.18 L125.94 136.74 L126.03 136.50 L126.13 136.49 L126.22 136.67 L126.32 137.00 L126.41 137.44 L126.51 137.97 L126.60 138.55 L126.70 139.15 L126.79 139.74 L126.89 140.36 L126.98 141.12 L127.08 141.96 L127.17 142.87 L127.27 143.82 L127.36 144.76 L127.46 145.67 L127.55 146.52 L127.65 147.29 L127.74 147.94 L127.84 148.60 L127.93 149.28 L128.03 149.96 L128.12 150.64 L128.22 151.29 L128.32 151.91 L128.41 152.49 L128.51 153.00 L128.60 153.45 L128.70 153.81 L128.79 154.08 L128.89 154.23 L128.98 154.27 L129.08 154.25 L129.17 154.21 L129.27 154.14 L129.36 154.05 L129.46 153.94 L129.55 153.82 L129.65 153.69 L129.74 153.54 L129.84 153.40 L129.93 153.25 L130.03 153.10 L130.12 152.95 L130.22 152.78 L130.31 152.59 L130.41 152.37 L130.50 152.14 L130.60 151.88 L130.70 151.61 L130.79 151.33 L130.89 151.03 L130.98 150.72 L131.08 150.40 L131.17 150.07 L131.27 149.73 L131.36 149.38 L131.46 149.03 L131.55 148.67 L131.65 148.32 L131.74 147.96 L131.84 147.60 L131.93 147.24 L132.03 146.89 L132.12 146.54 L132.22 146.20 L132.31 145.87 L132.41 145.54 L132.50 145.23 L132.60 144.93 L132.69 144.64 L132.79 144.37 L132.88 144.11 L132.98 143.87 L133.08 143.65 L133.17 143.45 L133.27 143.25 L133.36 143.03 L133.46 142.83 L133.55 142.63 L133.65 142.47 L133.74 142.35 L133.84 142.28 L133.93 142.28 L134.03 142.43 L134.12 142.73 L134.22 143.15 L134.31 143.66 L134.41 144.23 L134.50 144.85 L134.60 145.49 L134.69 146.12 L134.79 146.82 L134.88 147.65 L134.98 148.64 L135.07 149.86 L135.17 151.54 L135.26 153.55 L135.36 155.66 L135.46 157.73 L135.55 159.90 L135.65 162.35 L135.74 165.25 L135.84 168.80 L135.93 173.97 L136.03 180.62 L136.12 189.93 L136.22 203.25 L136.31 213.32 L136.41 213.90 L136.50 208.92 L136.60 201.24 L136.69 192.98 L136.79 185.13 L136.88 175.93 L136.98 164.73 L137.07 151.35 L137.17 134.61 L137.26 117.90 L137.36 103.48 L137.45 91.06 L137.55 82.20 L137.64 74.96 L137.74 69.35 L137.84 65.53 L137.93 62.32 L138.03 60.06 L138.12 59.54 L138.22 61.02 L138.31 63.85 L138.41 67.26 L138.50 72.09 L138.60 78.70 L138.69 86.34 L138.79 96.09 L138.88 107.67 L138.98 117.44 L139.07 125.02 L139.17 131.80 L139.26 137.99 L139.36 143.82 L139.45 149.50 L139.55 155.34 L139.64 161.41 L139.74 167.16 L139.83 172.02 L139.93 175.42 L140.02 177.88 L140.12 179.77 L140.22 180.33 L140.31 179.29 L140.41 177.26 L140.50 174.93 L140.60 172.03 L140.69 168.27 L140.79 164.18 L140.88 160.32 L140.98 157.14 L141.07 153.97 L141.17 150.76 L141.26 147.87 L141.36 145.65 L141.45 144.45 L141.55 144.63 L141.64 146.10 L141.74 148.25 L141.83 150.44 L141.93 152.94 L142.02 155.97 L142.12 159.35 L142.21 162.87 L142.31 166.33 L142.40 169.55 L142.50 172.32 L142.60 174.46 L142.69 176.23 L142.79 177.60 L142.88 177.74 L142.98 176.58 L143.07 174.76 L143.17 171.76 L143.26 166.81 L143.36 161.02 L143.45 155.50 L143.55 151.38 L143.64 148.81 L143.74 146.53 L143.83 144.53 L143.93 142.85 L144.02 141.48 L144.12 140.45 L144.21 139.56 L144.31 138.71 L144.40 137.95 L144.50 137.31 L144.59 136.83 L144.69 136.54 L144.78 136.48 L144.88 136.61 L144.98 136.90 L145.07 137.32 L145.17 137.83 L145.26 138.40 L145.36 139.00 L145.45 139.59 L145.55 140.19 L145.64 140.92 L145.74 141.74 L145.83 142.64 L145.93 143.58 L146.02 144.52 L146.12 145.45 L146.21 146.32 L146.31 147.11 L146.40 147.78 L146.50 148.44 L146.59 149.11 L146.69 149.79 L146.78 150.47 L146.88 151.13 L146.97 151.76 L147.07 152.35 L147.16 152.88 L147.26 153.34 L147.36 153.73 L147.45 154.02 L147.55 154.21 L147.64 154.27 L147.74 154.26 L147.83 154.22 L147.93 154.16 L148.02 154.07 L148.12 153.97 L148.21 153.85 L148.31 153.72 L148.40 153.58 L148.50 153.43 L148.59 153.29 L148.69 153.14 L148.78 152.99 L148.88 152.82 L148.97 152.64 L149.07 152.43 L149.16 152.20 L149.26 151.95 L149.35 151.68 L149.45 151.40 L149.54 151.11 L149.64 150.80 L149.74 150.48 L149.83 150.15 L149.93 149.81 L150.02 149.47 L150.12 149.12 L150.21 148.76 L150.31 148.40 L150.40 148.05 L150.50 147.69 L150.59 147.33 L150.69 146.98 L150.78 146.63 L150.88 146.29 L150.97 145.95 L151.07 145.62 L151.16 145.31 L151.26 145.00 L151.35 144.71 L151.45 144.43 L151.54 144.17 L151.64 143.93 L151.73 143.71 L151.83 143.50 L151.92 143.30 L152.02 143.09 L152.12 142.88 L152.21 142.68 L152.31 142.51 L152.40 142.38 L152.50 142.29 L152.59 142.27 L152.69 142.38 L152.78 142.64 L152.88 143.03 L152.97 143.52 L153.07 144.08 L153.16 144.70 L153.26 145.33 L153.35 145.96 L153.45 146.64 L153.54 147.43 L153.64 148.38 L153.73 149.52 L153.83 151.08 L153.92 153.03 L154.02 155.13 L154.11 157.21 L154.21 159.34 L154.30 161.70 L154.40 164.47 L154.50 167.82 L154.59 172.52 L154.69 178.86 L154.78 187.00 L154.88 199.93 L154.97 211.53 L155.07 214.47 L155.16 210.50 L155.26 203.30 L155.35 194.98 L155.45 187.19 L155.54 178.39 L155.64 167.75 L155.73 154.87 L155.83 139.10 L155.92 121.66 L156.02 106.99 L156.11 93.85 L156.21 84.20 L156.30 76.50 L156.40 70.38 L156.49 66.46 L156.59 63.64 L156.68 61.54 L156.78 60.71 L156.88 61.54 L156.97 63.64 L157.07 66.46 L157.16 70.49 L157.26 76.78 L157.35 84.36 L157.45 93.34 L157.54 104.80 L157.64 115.36 L157.73 123.21 L157.83 130.17 L157.92 136.49 L158.02 142.38 L158.11 148.08 L158.21 153.84 L158.30 159.90 L158.40 165.78 L158.49 170.92 L158.59 174.73 L158.68 177.29 L158.78 179.39 L158.87 180.35 L158.97 179.67 L159.06 177.83 L159.16 175.50 L159.26 172.86 L159.35 169.26 L159.45 165.20 L159.54 161.23 L159.64 157.89 L159.73 154.78 L159.83 151.55 L159.92 148.54 L160.02 146.12 L160.11 144.63 L160.21 144.44 L160.30 145.65 L160.40 147.68 L160.49 149.91 L160.59 152.25 L160.68 155.18 L160.78 158.48 L160.87 161.98 L160.97 165.48 L161.06 168.78 L161.16 171.68 L161.25 174.00 L161.35 175.79 L161.44 177.35 L161.54 177.85 L161.64 176.96 L161.73 175.24 L161.83 172.74 L161.92 168.17 L162.02 162.48 L162.11 156.79 L162.21 152.22 L162.30 149.42 L162.40 147.07 L162.49 145.00 L162.59 143.24 L162.68 141.79 L162.78 140.68 L162.87 139.78 L162.97 138.91 L163.06 138.13 L163.16 137.46 L163.25 136.94 L163.35 136.60 L163.44 136.47 L163.54 136.56 L163.63 136.82 L163.73 137.21 L163.82 137.70 L163.92 138.25 L164.02 138.85 L164.11 139.45 L164.21 140.03 L164.30 140.73 L164.40 141.53 L164.49 142.41 L164.59 143.34 L164.68 144.29 L164.78 145.22 L164.87 146.11 L164.97 146.92 L165.06 147.62 L165.16 148.27 L165.25 148.94 L165.35 149.62 L165.44 150.30 L165.54 150.97 L165.63 151.61 L165.73 152.20 L165.82 152.75 L165.92 153.23 L166.01 153.64 L166.11 153.96 L166.20 154.17 L166.30 154.27 L166.40 154.27 L166.49 154.23 L166.59 154.17 L166.68 154.09 L166.78 153.99 L166.87 153.88 L166.97 153.75 L167.06 153.61 L167.16 153.47 L167.25 153.32 L167.35 153.17 L167.44 153.03 L167.54 152.87 L167.63 152.70 L167.73 152.51 L167.82 152.30 L167.92 152.08 L168.01 151.84 L168.11 151.59 L168.20 151.33 L168.30 151.06 L168.39 150.77 L168.49 150.48 L168.58 150.18 L168.68 149.87 L168.78 149.55 L168.87 149.23 L168.97 148.91 L169.06 148.58 L169.16 148.25 L169.25 147.93 L169.35 147.60 L169.44 147.27 L169.54 146.95 L169.63 146.63 L169.73 146.31 L169.82 146.00 L169.92 145.70 L170.01 145.40 L170.11 145.12 L170.20 144.84 L170.30 144.58 L170.39 144.32 L170.49 144.08 L170.58 143.86 L170.68 143.65 L170.77 143.45 L170.87 143.25 L170.96 143.04 L171.06 142.83 L171.16 142.64 L171.25 142.47 L171.35 142.35 L171.44 142.28 L171.54 142.28 L171.63 142.43 L171.73 142.73 L171.82 143.15 L171.92 143.66 L172.01 144.23 L172.11 144.85 L172.20 145.49 L172.30 146.12 L172.39 146.82 L172.49 147.65 L172.58 148.64 L172.68 149.86 L172.77 151.54 L172.87 153.55 L172.96 155.66 L173.06 157.73 L173.15 159.90 L173.25 162.35 L173.34 165.25 L173.44 168.80 L173.54 173.97 L173.63 180.62 L173.73 189.93 L173.82 203.25 L173.92 213.32 L174.01 213.90 L174.11 208.92 L174.20 201.24 L174.30 192.98 L174.39 185.13 L174.49 175.93 L174.58 164.73 L174.68 151.35 L174.77 134.61 L174.87 117.90 L174.96 103.48 L175.06 91.06 L175.15 82.18 L175.25 74.91 L175.34 69.29 L175.44 65.59 L175.53 62.55 L175.63 60.44 L175.72 59.95 L175.82 61.34 L175.92 64.00 L176.01 67.25 L176.11 72.02 L176.20 78.67 L176.30 86.34 L176.39 96.09 L176.49 107.67 L176.58 117.44 L176.68 125.02 L176.77 131.80 L176.87 137.99 L176.96 143.82 L177.06 149.50 L177.15 155.34 L177.25 161.41 L177.34 167.16 L177.44 172.02 L177.53 175.42 L177.63 177.88 L177.72 179.77 L177.82 180.33 L177.91 179.29 L178.01 177.26 L178.10 174.93 L178.20 172.03 L178.30 168.27 L178.39 164.18 L178.49 160.32 L178.58 157.14 L178.68 153.97 L178.77 150.76 L178.87 147.87 L178.96 145.65 L179.06 144.45 L179.15 144.63 L179.25 146.10 L179.34 148.25 L179.44 150.44 L179.53 152.94 L179.63 155.97 L179.72 159.35 L179.82 162.87 L179.91 166.33 L180.01 169.55 L180.10 172.32 L180.20 174.46 L180.29 176.23 L180.39 177.60 L180.48 177.74 L180.58 176.58 L180.68 174.76 L180.77 171.76 L180.87 166.81 L180.96 161.02 L181.06 155.50 L181.15 151.38 L181.25 148.81 L181.34 146.53 L181.44 144.53 L181.53 142.85 L181.63 141.48 L181.72 140.45 L181.82 139.56 L181.91 138.71 L182.01 137.95 L182.10 137.31 L182.20 136.83 L182.29 136.54 L182.39 136.48 L182.48 136.61 L182.58 136.90 L182.67 137.32 L182.77 137.83 L182.86 138.40 L182.96 139.00 L183.06 139.59 L183.15 140.19 L183.25 140.92 L183.34 141.74 L183.44 142.64 L183.53 143.58 L183.63 144.52 L183.72 145.45 L183.82 146.32 L183.91 147.11 L184.01 147.78 L184.10 148.44 L184.20 149.11 L184.29 149.79 L184.39 150.47 L184.48 151.13 L184.58 151.76 L184.67 152.35 L184.77 152.88 L184.86 153.34 L184.96 153.73 L185.05 154.02 L185.15 154.21 L185.24 154.27 L185.34 154.26 L185.44 154.22 L185.53 154.16 L185.63 154.07 L185.72 153.97 L185.82 153.85 L185.91 153.72 L186.01 153.58 L186.10 153.43 L186.20 153.28 L186.29 153.14 L186.39 152.99 L186.48 152.83 L186.58 152.65 L186.67 152.44 L186.77 152.22 L186.86 151.99 L186.96 151.74 L187.05 151.47 L187.15 151.19 L187.24 150.90 L187.34 150.60 L187.43 150.28 L187.53 149.96 L187.62 149.64 L187.72 149.30 L187.82 148.97 L187.91 148.63 L188.01 148.28 L188.10 147.94 L188.20 147.60 L188.29 147.26 L188.39 146.92 L188.48 146.59 L188.58 146.26 L188.67 145.94 L188.77 145.62 L188.86 145.32 L188.96 145.02 L189.05 144.74 L189.15 144.47 L189.24 144.22 L189.34 143.98 L189.43 143.76 L189.53 143.55 L189.62 143.35 L189.72 143.14 L189.81 142.93 L189.91 142.73 L190.00 142.55 L190.10 142.41 L190.20 142.31 L190.29 142.27 L190.39 142.34 L190.48 142.57 L190.58 142.93 L190.67 143.39 L190.77 143.94 L190.86 144.54 L190.96 145.17 L191.05 145.81 L191.15 146.46 L191.24 147.22 L191.34 148.13 L191.43 149.21 L191.53 150.65 L191.62 152.52 L191.72 154.60 L191.81 156.69 L191.91 158.79 L192.00 161.08 L192.10 163.73 L192.19 166.92 L192.29 171.16 L192.38 177.16 L192.48 184.46 L192.58 196.52 L192.67 209.18 L192.77 214.71 L192.86 211.88 L192.96 205.29 L193.05 197.05 L193.15 189.17 L193.24 180.73 L193.34 170.63 L193.43 158.28 L193.53 143.47 L193.62 125.77 L193.72 110.58 L193.81 96.88 L193.91 86.30 L194.00 78.33 L194.10 71.80 L194.19 67.23 L194.29 64.15 L194.38 61.65 L194.48 60.36 L194.57 60.81 L194.67 62.79 L194.76 65.65 L194.86 69.29 L194.96 75.11 L195.05 82.41 L195.15 90.76 L195.24 101.88 L195.34 113.00 L195.43 121.17 L195.53 127.52 L195.62 133.07 L195.72 138.63 L195.81 145.04 L195.91 153.40 L196.00 167.29 L196.10 176.74 L196.19 179.44 L196.29 181.14 L196.38 181.56 L196.48 180.51 L196.57 178.47 L196.67 176.12 L196.76 172.95 L196.86 168.73 L196.95 164.20 L197.05 160.14 L197.14 157.19 L197.24 154.56 L197.34 152.00 L197.43 149.66 L197.53 147.71 L197.62 146.31 L197.72 145.62 L197.81 145.94 L197.91 147.44 L198.00 149.61 L198.10 151.89 L198.19 154.89 L198.29 158.70 L198.38 162.90 L198.48 167.09 L198.57 170.83 L198.67 173.73 L198.76 175.65 L198.86 177.25 L198.95 177.87 L199.05 177.09 L199.14 175.42 L199.24 173.07 L199.33 168.65 L199.43 163.00 L199.52 157.25 L199.62 152.55 L199.72 149.70 L199.81 147.41 L199.91 145.41 L200.00 143.71 L200.10 142.30 L200.19 141.19 L200.29 140.28 L200.38 139.42 L200.48 138.63 L200.57 137.94 L200.67 137.40 L200.76 137.04 L200.86 136.89 L200.95 136.96 L201.05 137.20 L201.14 137.58 L201.24 138.06 L201.33 138.61 L201.43 139.20 L201.52 139.80 L201.62 140.39 L201.71 141.09 L201.81 141.91 L201.90 142.83 L202.00 143.79 L202.10 144.77 L202.19 145.71 L202.29 146.59 L202.38 147.36 L202.48 147.99 L202.57 148.51 L202.67 149.02 L202.76 149.53 L202.86 150.04 L202.95 150.53 L203.05 151.00 L203.14 151.45 L203.24 151.88 L203.33 152.27 L203.43 152.64 L203.52 152.96 L203.62 153.24 L203.71 153.47 L203.81 153.66 L203.90 153.78 L204.00 153.85 L204.09 153.86 L204.19 153.83 L204.28 153.78 L204.38 153.71 L204.48 153.61 L204.57 153.50 L204.67 153.38 L204.76 153.25 L204.86 153.10 L204.95 152.95 L205.05 152.80 L205.14 152.65 L205.24 152.49 L205.33 152.29 L205.43 152.06 L205.52 151.81 L205.62 151.52 L205.71 151.21 L205.81 150.88 L205.90 150.53 L206.00 150.16 L206.09 149.78 L206.19 149.38 L206.28 148.97 L206.38 148.56 L206.47 148.13 L206.57 147.71 L206.66 147.28 L206.76 146.86 L206.86 146.44 L206.95 146.02 L207.05 145.62 L207.14 145.22 L207.24 144.84 L207.33 144.47 L207.43 144.12 L207.52 143.79 L207.62 143.48 L207.71 143.20 L207.81 142.95 L207.90 142.73 L208.00 142.52 L208.09 142.30 L208.19 142.09 L208.28 141.89 L208.38 141.72 L208.47 141.57 L208.57 141.48 L208.66 141.44 L208.76 141.51 L208.85 141.74 L208.95 142.10 L209.04 142.56 L209.14 143.11 L209.24 143.71 L209.33 144.34 L209.43 144.98 L209.52 145.62 L209.62 146.37 L209.71 147.27 L209.81 148.38 L209.90 149.98 L210.00 152.17 L210.09 154.56 L210.19 156.79 L210.28 158.92 L210.38 161.18 L210.47 163.77 L210.57 166.92 L210.66 171.16 L210.76 177.16 L210.85 184.46 L210.95 196.52 L211.04 209.18 L211.14 214.71 L211.23 211.88 L211.33 205.29 L211.42 197.05 L211.52 189.17 L211.62 180.73 L211.71 170.63 L211.81 158.28 L211.90 143.47 L212.00 125.77 L212.09 110.58 L212.19 96.88 L212.28 86.30 L212.38 78.37 L212.47 71.87 L212.57 67.25 L212.66 64.00 L212.76 61.34 L212.85 59.95 L212.95 60.44 L213.04 62.55 L213.14 65.59 L213.23 69.35 L213.33 75.17 L213.42 82.43 L213.52 90.76 L213.61 101.88 L213.71 113.00 L213.80 121.34 L213.90 128.48 L214.00 134.92 L214.09 140.89 L214.19 146.63 L214.28 152.38 L214.38 158.49 L214.47 164.58 L214.57 170.06 L214.66 174.33 L214.76 177.10 L214.85 179.36 L214.95 180.67 L215.04 180.40 L215.14 178.78 L215.23 176.51 L215.33 174.00 L215.42 170.46 L215.52 166.29 L215.61 162.12 L215.71 158.60 L215.80 155.78 L215.90 152.90 L215.99 150.20 L216.09 147.96 L216.18 146.47 L216.28 146.00 L216.38 146.91 L216.47 148.81 L216.57 151.04 L216.66 153.21 L216.76 155.85 L216.85 158.84 L216.95 162.04 L217.04 165.28 L217.14 168.38 L217.23 171.18 L217.33 173.52 L217.42 175.34 L217.52 177.01 L217.61 177.87 L217.71 177.28 L217.80 175.71 L217.90 173.57 L217.99 169.49 L218.09 163.99 L218.18 158.21 L218.28 153.23 L218.37 150.02 L218.47 147.51 L218.56 145.28 L218.66 143.36 L218.76 141.76 L218.85 140.52 L218.95 139.58 L219.04 138.70 L219.14 137.89 L219.23 137.19 L219.33 136.63 L219.42 136.25 L219.52 136.07 L219.61 136.11 L219.71 136.33 L219.80 136.69 L219.90 137.15 L219.99 137.70 L220.09 138.28 L220.18 138.88 L220.28 139.47 L220.37 140.12 L220.47 140.88 L220.56 141.73 L220.66 142.62 L220.75 143.55 L220.85 144.48 L220.94 145.39 L221.04 146.25 L221.14 147.03 L221.23 147.74 L221.33 148.50 L221.42 149.28 L221.52 150.08 L221.61 150.88 L221.71 151.65 L221.80 152.39 L221.90 153.07 L221.99 153.68 L222.09 154.20 L222.18 154.62 L222.28 154.92 L222.37 155.08 L222.47 155.10 L222.56 155.07 L222.66 155.03 L222.75 154.96 L222.85 154.87 L222.94 154.76 L223.04 154.64 L223.13 154.51 L223.23 154.37 L223.32 154.21 L223.42 154.06 L223.52 153.89 L223.61 153.71 L223.71 153.45 L223.80 153.12 L223.90 152.74 L223.99 152.31 L224.09 151.83 L224.18 151.32 L224.28 150.77 L224.37 150.21 L224.47 149.64 L224.56 149.06 L224.66 148.48 L224.75 147.92 L224.85 147.37 L224.94 146.84 L225.04 146.35 L225.13 145.90 L225.23 145.49 L225.32 145.15 L225.42 144.86 L225.51 144.63 L225.61 144.41 L225.70 144.19 L225.80 143.99 L225.90 143.81 L225.99 143.67 L226.09 143.56 L226.18 143.51 L226.28 143.55 L226.37 143.74 L226.47 144.07 L226.56 144.51 L226.66 145.04 L226.75 145.63 L226.85 146.25 L226.94 146.89 L227.04 147.53 L227.13 148.29 L227.23 149.18 L227.32 150.19 L227.42 151.33 L227.51 152.68 L227.61 154.25 L227.70 156.05 L227.80 158.03 L227.89 160.29 L227.99 162.93 L228.08 166.05 L228.18 169.92 L228.28 175.52 L228.37 182.44 L228.47 193.14 L228.56 206.38 L228.66 214.41 L228.75 213.02 L228.85 207.17 L228.94 199.15 L229.04 191.07 L229.13 182.98 L229.23 173.36 L229.32 161.57 L229.42 147.59 L229.51 130.13 L229.61 114.23 L229.70 100.10 L229.80 88.53 L229.89 80.06 L229.99 72.84 L230.08 67.89 L230.18 65.57 L230.27 63.89 L230.37 62.91 L230.46 62.91 L230.56 63.89 L230.66 65.57 L230.75 67.91 L230.85 73.05 L230.94 80.35 L231.04 88.41 L231.13 98.96 L231.23 110.42 L231.32 119.44 L231.42 126.92 L231.51 133.70 L231.61 139.89 L231.70 145.59 L231.80 150.92 L231.89 156.13 L231.99 161.17 L232.08 165.75 L232.18 169.54 L232.27 172.30 L232.37 174.67 L232.46 176.32 L232.56 176.47 L232.65 175.07 L232.75 172.88 L232.84 170.67 L232.94 168.23 L233.04 165.45 L233.13 162.46 L233.23 159.40 L233.32 156.20 L233.42 152.17 L233.51 147.81 L233.61 143.79 L233.70 140.77 L233.80 139.39 L233.89 139.92 L233.99 141.58 L234.08 143.80 L234.18 146.10 L234.27 149.16 L234.37 152.94 L234.46 157.17 L234.56 161.55 L234.65 165.80 L234.75 169.63 L234.84 172.75 L234.94 174.91 L235.03 176.67 L235.13 177.78 L235.22 177.55 L235.32 176.16 L235.42 174.24 L235.51 170.67 L235.61 165.40 L235.70 159.57 L235.80 154.29 L235.89 150.70 L235.99 148.21 L236.08 146.00 L236.18 144.08 L236.27 142.48 L236.37 141.20 L236.46 140.23 L236.56 139.34 L236.65 138.51 L236.75 137.78 L236.84 137.18 L236.94 136.74 L237.03 136.50 L237.13 136.49 L237.22 136.67 L237.32 137.00 L237.41 137.44 L237.51 137.97 L237.60 138.55 L237.70 139.15 L237.80 139.74 L237.89 140.36 L237.99 141.11 L238.08 141.95 L238.18 142.85 L238.27 143.79 L238.37 144.73 L238.46 145.64 L238.56 146.50 L238.65 147.27 L238.75 147.95 L238.84 148.64 L238.94 149.36 L239.03 150.08 L239.13 150.79 L239.22 151.49 L239.32 152.15 L239.41 152.76 L239.51 153.32 L239.60 153.80 L239.70 154.19 L239.79 154.47 L239.89 154.64 L239.98 154.69 L240.08 154.67 L240.18 154.62 L240.27 154.56 L240.37 154.47 L240.46 154.37 L240.56 154.25 L240.65 154.12 L240.75 153.98 L240.84 153.83 L240.94 153.68 L241.03 153.52 L241.13 153.35 L241.22 153.14 L241.32 152.88 L241.41 152.57 L241.51 152.22 L241.60 151.84 L241.70 151.43 L241.79 151.00 L241.89 150.54 L241.98 150.07 L242.08 149.59 L242.17 149.10 L242.27 148.62 L242.36 148.13 L242.46 147.66 L242.56 147.20 L242.65 146.75 L242.75 146.33 L242.84 145.94 L242.94 145.58 L243.03 145.26 L243.13 144.98 L243.22 144.74 L243.32 144.53 L243.41 144.31 L243.51 144.10 L243.60 143.91 L243.70 143.74 L243.79 143.61 L243.89 143.53 L243.98 143.51 L244.08 143.62 L244.17 143.89 L244.27 144.27 L244.36 144.76 L244.46 145.33 L244.55 145.94 L244.65 146.57 L244.74 147.21 L244.84 147.90 L244.94 148.72 L245.03 149.67 L245.13 150.74 L245.22 151.98 L245.32 153.44 L245.41 155.13 L245.51 157.01 L245.60 159.12 L245.70 161.56 L245.79 164.42 L245.89 167.82 L245.98 172.52 L246.08 178.86 L246.17 187.00 L246.27 199.93 L246.36 211.53 L246.46 214.47 L246.55 210.50 L246.65 203.30 L246.74 194.98 L246.84 187.19 L246.93 178.39 L247.03 167.75 L247.12 154.87 L247.22 139.10 L247.32 121.66 L247.41 106.99 L247.51 93.85 L247.60 84.18 L247.70 76.23 L247.79 70.01 L247.89 66.59 L247.98 64.65 L248.08 63.29 L248.17 62.78 L248.27 63.29 L248.36 64.65 L248.46 66.59 L248.55 70.11 L248.65 76.52 L248.74 84.34 L248.84 93.34 L248.93 104.80 L249.03 115.36 L249.12 123.22 L249.22 130.19 L249.31 136.52 L249.41 142.43 L249.50 148.10 L249.60 153.81 L249.70 159.77 L249.79 165.53 L249.89 170.56 L249.98 174.32 L250.08 176.88 L250.17 178.97 L250.27 179.94 L250.36 179.26 L250.46 177.40 L250.55 175.09 L250.65 172.50 L250.74 169.05 L250.84 165.17 L250.93 161.29 L251.03 157.88 L251.12 154.53 L251.22 150.93 L251.31 147.52 L251.41 144.74 L251.50 143.02 L251.60 142.79 L251.69 143.98 L251.79 146.01 L251.88 148.25 L251.98 150.68 L252.08 153.78 L252.17 157.33 L252.27 161.11 L252.36 164.89 L252.46 168.45 L252.55 171.55 L252.65 173.98 L252.74 175.80 L252.84 177.35 L252.93 177.85 L253.03 176.96 L253.12 175.24 L253.22 172.73 L253.31 168.12 L253.41 162.38 L253.50 156.68 L253.60 152.17 L253.69 149.52 L253.79 147.35 L253.88 145.47 L253.98 143.88 L254.07 142.56 L254.17 141.51 L254.26 140.62 L254.36 139.76 L254.46 138.98 L254.55 138.30 L254.65 137.77 L254.74 137.43 L254.84 137.30 L254.93 137.39 L255.03 137.65 L255.12 138.04 L255.22 138.52 L255.31 139.08 L255.41 139.68 L255.50 140.27 L255.60 140.86 L255.69 141.57 L255.79 142.41 L255.88 143.32 L255.98 144.29 L256.07 145.26 L256.17 146.20 L256.26 147.07 L256.36 147.83 L256.45 148.45 L256.55 148.99 L256.64 149.52 L256.74 150.05 L256.84 150.57 L256.93 151.07 L257.03 151.54 L257.12 151.98 L257.22 152.37 L257.31 152.72 L257.41 153.00 L257.50 153.22 L257.60 153.37 L257.69 153.44 L257.79 153.44 L257.88 153.41 L257.98 153.35 L258.07 153.27 L258.17 153.18 L258.26 153.06 L258.36 152.94 L258.45 152.80 L258.55 152.66 L258.64 152.51 L258.74 152.35 L258.83 152.20 L258.93 152.02 L259.02 151.80 L259.12 151.55 L259.22 151.26 L259.31 150.94 L259.41 150.59 L259.50 150.21 L259.60 149.82 L259.69 149.40 L259.79 148.96 L259.88 148.51 L259.98 148.05 L260.07 147.58 L260.17 147.11 L260.26 146.63 L260.36 146.16 L260.45 145.68 L260.55 145.22 L260.64 144.76 L260.74 144.31 L260.83 143.88 L260.93 143.47 L261.02 143.08 L261.12 142.71 L261.21 142.37 L261.31 142.06 L261.40 141.78 L261.50 141.54" stroke="#DF6B37" stroke-width="1.0"/>
</g>
<rect x="23.85" y="13.1" width="237.75" height="207.00" fill="none" stroke="#989898" stroke-width="0.8"/>
<path d="M23.50 220.1 v-2.4 M23.50 13.1 v2.4 M47.30 220.1 v-2.4 M47.30 13.1 v2.4 M71.10 220.1 v-2.4 M71.10 13.1 v2.4 M94.90 220.1 v-2.4 M94.90 13.1 v2.4 M118.70 220.1 v-2.4 M118.70 13.1 v2.4 M142.50 220.1 v-2.4 M142.50 13.1 v2.4 M166.30 220.1 v-2.4 M166.30 13.1 v2.4 M190.10 220.1 v-2.4 M190.10 13.1 v2.4 M213.90 220.1 v-2.4 M213.90 13.1 v2.4 M237.70 220.1 v-2.4 M237.70 13.1 v2.4 M261.50 220.1 v-2.4 M261.50 13.1 v2.4 M23.85 13.10 h2.4 M261.6 13.10 h-2.4 M23.85 33.80 h2.4 M261.6 33.80 h-2.4 M23.85 54.50 h2.4 M261.6 54.50 h-2.4 M23.85 75.20 h2.4 M261.6 75.20 h-2.4 M23.85 95.90 h2.4 M261.6 95.90 h-2.4 M23.85 116.60 h2.4 M261.6 116.60 h-2.4 M23.85 137.30 h2.4 M261.6 137.30 h-2.4 M23.85 158.00 h2.4 M261.6 158.00 h-2.4 M23.85 178.70 h2.4 M261.6 178.70 h-2.4 M23.85 199.40 h2.4 M261.6 199.40 h-2.4 M23.85 220.10 h2.4 M261.6 220.10 h-2.4 " stroke="#989898" stroke-width="0.8" fill="none"/>
<text class="tk" x="23.50" y="229.40" text-anchor="middle">0</text>
<text class="tk" x="47.30" y="229.40" text-anchor="middle">1</text>
<text class="tk" x="71.10" y="229.40" text-anchor="middle">2</text>
<text class="tk" x="94.90" y="229.40" text-anchor="middle">3</text>
<text class="tk" x="118.70" y="229.40" text-anchor="middle">4</text>
<text class="tk" x="142.50" y="229.40" text-anchor="middle">5</text>
<text class="tk" x="166.30" y="229.40" text-anchor="middle">6</text>
<text class="tk" x="190.10" y="229.40" text-anchor="middle">7</text>
<text class="tk" x="213.90" y="229.40" text-anchor="middle">8</text>
<text class="tk" x="237.70" y="229.40" text-anchor="middle">9</text>
<text class="tk" x="261.50" y="229.40" text-anchor="middle">10</text>
<text class="tk" x="21.35" y="15.60" text-anchor="end">850</text>
<text class="tk" x="21.35" y="36.30" text-anchor="end">800</text>
<text class="tk" x="21.35" y="57.00" text-anchor="end">750</text>
<text class="tk" x="21.35" y="77.70" text-anchor="end">700</text>
<text class="tk" x="21.35" y="98.40" text-anchor="end">650</text>
<text class="tk" x="21.35" y="119.10" text-anchor="end">600</text>
<text class="tk" x="21.35" y="139.80" text-anchor="end">550</text>
<text class="tk" x="21.35" y="160.50" text-anchor="end">500</text>
<text class="tk" x="21.35" y="181.20" text-anchor="end">450</text>
<text class="tk" x="21.35" y="201.90" text-anchor="end">400</text>
<text class="tk" x="21.35" y="222.60" text-anchor="end">350</text>
<text class="b" x="142.5" y="9.9" font-size="7.25" text-anchor="middle" fill="#1a1a1a">Signals</text>
<text class="b" x="142.5" y="238.4" font-size="7.2" text-anchor="middle" fill="#262626">time (s)</text>
<text class="b" transform="translate(6.9 116.6) rotate(-90)" font-size="6.9" text-anchor="middle" fill="#262626">a.u</text>
<rect x="36.3" y="24.1" width="65.3" height="22.3" fill="#fff" stroke="#8a8a8a" stroke-width="0.6"/>
<path d="M38.4 30.9 H56.6" stroke="#2583C7" stroke-width="1.05"/>
<path d="M38.4 40.3 H56.6" stroke="#DF6B37" stroke-width="1.0"/>
<text class="b" x="58.7" y="33.7" font-size="7.2" fill="#111">ECG</text>
<text class="b" x="58.7" y="43.3" font-size="7.2" fill="#111">Microphone</text>
</g>
<g>
<clipPath id="cr"><rect x="305.95" y="12.4" width="237.55" height="206.70"/></clipPath>
<g clip-path="url(#cr)" fill="none" stroke-linejoin="round">
<path d="M305.70 160.45 L305.86 160.17 L306.02 159.90 L306.18 159.69 L306.33 159.58 L306.49 159.58 L306.65 159.61 L306.81 159.65 L306.97 159.71 L307.13 159.78 L307.29 159.84 L307.44 159.90 L307.60 159.95 L307.76 159.98 L307.92 159.98 L308.08 159.94 L308.24 159.84 L308.40 159.69 L308.55 159.52 L308.71 159.32 L308.87 159.10 L309.03 158.87 L309.19 158.65 L309.35 158.43 L309.50 158.24 L309.66 158.08 L309.82 157.95 L309.98 157.86 L310.14 157.77 L310.30 157.68 L310.46 157.60 L310.61 157.52 L310.77 157.44 L310.93 157.37 L311.09 157.30 L311.25 157.25 L311.41 157.19 L311.57 157.15 L311.72 157.12 L311.88 157.10 L312.04 157.09 L312.20 157.12 L312.36 157.22 L312.52 157.40 L312.68 157.64 L312.83 157.93 L312.99 158.26 L313.15 158.63 L313.31 159.01 L313.47 159.40 L313.63 159.80 L313.79 160.18 L313.94 160.55 L314.10 160.93 L314.26 161.33 L314.42 161.74 L314.58 162.18 L314.74 162.63 L314.89 163.10 L315.05 163.60 L315.21 164.13 L315.37 164.67 L315.53 165.25 L315.69 165.85 L315.85 166.48 L316.00 167.19 L316.16 168.08 L316.32 169.10 L316.48 170.20 L316.64 171.31 L316.80 172.40 L316.96 173.40 L317.11 174.27 L317.27 174.96 L317.43 175.42 L317.59 175.82 L317.75 176.20 L317.91 176.56 L318.07 176.89 L318.22 177.17 L318.38 177.41 L318.54 177.59 L318.70 177.71 L318.86 177.76 L319.02 177.74 L319.18 177.67 L319.33 177.57 L319.49 177.43 L319.65 177.26 L319.81 177.06 L319.97 176.85 L320.13 176.63 L320.29 176.39 L320.44 176.16 L320.60 175.93 L320.76 175.71 L320.92 175.50 L321.08 175.26 L321.24 175.01 L321.39 174.75 L321.55 174.47 L321.71 174.19 L321.87 173.89 L322.03 173.60 L322.19 173.30 L322.35 172.99 L322.50 172.69 L322.66 172.40 L322.82 172.10 L322.98 171.82 L323.14 171.54 L323.30 171.27 L323.46 171.02 L323.61 170.76 L323.77 170.50 L323.93 170.24 L324.09 169.98 L324.25 169.72 L324.41 169.46 L324.57 169.20 L324.72 168.94 L324.88 168.69 L325.04 168.44 L325.20 168.19 L325.36 167.95 L325.52 167.72 L325.68 167.49 L325.83 167.27 L325.99 167.07 L326.15 166.87 L326.31 166.68 L326.47 166.50 L326.63 166.33 L326.78 166.18 L326.94 166.03 L327.10 165.88 L327.26 165.73 L327.42 165.59 L327.58 165.44 L327.74 165.30 L327.89 165.16 L328.05 165.03 L328.21 164.89 L328.37 164.76 L328.53 164.63 L328.69 164.51 L328.85 164.39 L329.00 164.27 L329.16 164.16 L329.32 164.05 L329.48 163.95 L329.64 163.85 L329.80 163.76 L329.96 163.68 L330.11 163.60 L330.27 163.53 L330.43 163.47 L330.59 163.41 L330.75 163.36 L330.91 163.32 L331.07 163.29 L331.22 163.27 L331.38 163.24 L331.54 163.22 L331.70 163.19 L331.86 163.17 L332.02 163.14 L332.18 163.12 L332.33 163.10 L332.49 163.08 L332.65 163.06 L332.81 163.04 L332.97 163.02 L333.13 163.00 L333.28 162.99 L333.44 162.97 L333.60 162.96 L333.76 162.95 L333.92 162.93 L334.08 162.92 L334.24 162.91 L334.39 162.90 L334.55 162.90 L334.71 162.89 L334.87 162.88 L335.03 162.88 L335.19 162.88 L335.35 162.88 L335.50 162.88 L335.66 162.88 L335.82 162.89 L335.98 162.90 L336.14 162.92 L336.30 162.93 L336.46 162.95 L336.61 162.97 L336.77 162.99 L336.93 163.02 L337.09 163.04 L337.25 163.06 L337.41 163.09 L337.57 163.11 L337.72 163.14 L337.88 163.16 L338.04 163.18 L338.20 163.20 L338.36 163.22 L338.52 163.24 L338.67 163.26 L338.83 163.27 L338.99 163.28 L339.15 163.29 L339.31 163.29 L339.47 163.29 L339.63 163.28 L339.78 163.27 L339.94 163.24 L340.10 163.22 L340.26 163.19 L340.42 163.15 L340.58 163.12 L340.74 163.08 L340.89 163.05 L341.05 163.01 L341.21 162.98 L341.37 162.95 L341.53 162.92 L341.69 162.90 L341.85 162.89 L342.00 162.88 L342.16 162.91 L342.32 163.13 L342.48 163.47 L342.64 163.86 L342.80 164.22 L342.96 164.47 L343.11 164.53 L343.27 164.46 L343.43 164.31 L343.59 164.11 L343.75 163.88 L343.91 163.64 L344.07 163.42 L344.22 163.24 L344.38 163.04 L344.54 162.82 L344.70 162.61 L344.86 162.41 L345.02 162.24 L345.17 162.11 L345.33 162.05 L345.49 162.06 L345.65 162.12 L345.81 162.22 L345.97 162.35 L346.13 162.50 L346.28 162.67 L346.44 162.85 L346.60 163.02 L346.76 163.18 L346.92 163.33 L347.08 163.49 L347.24 163.66 L347.39 163.85 L347.55 164.04 L347.71 164.23 L347.87 164.40 L348.03 164.57 L348.19 164.71 L348.35 164.83 L348.50 164.92 L348.66 164.97 L348.82 165.02 L348.98 165.06 L349.14 165.10 L349.30 165.14 L349.46 165.18 L349.61 165.21 L349.77 165.23 L349.93 165.25 L350.09 165.26 L350.25 165.27 L350.41 165.27 L350.56 165.26 L350.72 165.24 L350.88 165.20 L351.04 165.15 L351.20 165.10 L351.36 165.04 L351.52 164.97 L351.67 164.90 L351.83 164.84 L351.99 164.77 L352.15 164.71 L352.31 164.65 L352.47 164.61 L352.63 164.57 L352.78 164.54 L352.94 164.53 L353.10 164.54 L353.26 164.57 L353.42 164.61 L353.58 164.67 L353.74 164.74 L353.89 164.82 L354.05 164.90 L354.21 164.99 L354.37 165.07 L354.53 165.15 L354.69 165.22 L354.85 165.28 L355.00 165.32 L355.16 165.35 L355.32 165.36 L355.48 165.36 L355.64 165.36 L355.80 165.36 L355.96 165.36 L356.11 165.36 L356.27 165.36 L356.43 165.36 L356.59 165.36 L356.75 165.36 L356.91 165.36 L357.06 165.36 L357.22 165.28 L357.38 162.64 L357.54 157.30 L357.70 150.70 L357.86 143.53 L358.02 132.24 L358.17 121.79 L358.33 118.89 L358.49 123.98 L358.65 133.08 L358.81 142.81 L358.97 151.99 L359.13 163.28 L359.28 175.63 L359.44 187.87 L359.60 198.79 L359.76 207.19 L359.92 211.90 L360.08 211.87 L360.24 207.97 L360.39 202.00 L360.55 195.74 L360.71 189.69 L360.87 182.48 L361.03 175.74 L361.19 171.26 L361.35 168.93 L361.50 167.12 L361.66 165.77 L361.82 164.80 L361.98 163.98 L362.14 163.26 L362.30 162.73 L362.45 162.48 L362.61 162.49 L362.77 162.58 L362.93 162.70 L363.09 162.81 L363.25 162.87 L363.41 162.82 L363.56 162.60 L363.72 162.27 L363.88 161.89 L364.04 161.54 L364.20 161.30 L364.36 161.20 L364.52 161.15 L364.67 161.11 L364.83 161.08 L364.99 161.05 L365.15 161.03 L365.31 161.01 L365.47 160.99 L365.63 160.97 L365.78 160.95 L365.94 160.92 L366.10 160.87 L366.26 160.82 L366.42 160.72 L366.58 160.51 L366.74 160.24 L366.89 159.97 L367.05 159.73 L367.21 159.59 L367.37 159.57 L367.53 159.60 L367.69 159.64 L367.85 159.70 L368.00 159.76 L368.16 159.83 L368.32 159.89 L368.48 159.94 L368.64 159.97 L368.80 159.98 L368.95 159.95 L369.11 159.87 L369.27 159.73 L369.43 159.56 L369.59 159.37 L369.75 159.15 L369.91 158.93 L370.06 158.70 L370.22 158.49 L370.38 158.29 L370.54 158.11 L370.70 157.98 L370.86 157.88 L371.02 157.79 L371.17 157.71 L371.33 157.62 L371.49 157.54 L371.65 157.46 L371.81 157.39 L371.97 157.32 L372.13 157.26 L372.28 157.21 L372.44 157.16 L372.60 157.13 L372.76 157.10 L372.92 157.09 L373.08 157.10 L373.24 157.19 L373.39 157.35 L373.55 157.57 L373.71 157.85 L373.87 158.18 L374.03 158.53 L374.19 158.91 L374.34 159.30 L374.50 159.70 L374.66 160.09 L374.82 160.46 L374.98 160.84 L375.14 161.23 L375.30 161.64 L375.45 162.07 L375.61 162.51 L375.77 162.98 L375.93 163.48 L376.09 163.99 L376.25 164.53 L376.41 165.10 L376.56 165.69 L376.72 166.32 L376.88 167.00 L377.04 167.85 L377.20 168.84 L377.36 169.92 L377.52 171.03 L377.67 172.13 L377.83 173.16 L377.99 174.07 L378.15 174.81 L378.31 175.32 L378.47 175.72 L378.63 176.11 L378.78 176.48 L378.94 176.81 L379.10 177.11 L379.26 177.36 L379.42 177.55 L379.58 177.69 L379.74 177.75 L379.89 177.75 L380.05 177.70 L380.21 177.60 L380.37 177.47 L380.53 177.30 L380.69 177.11 L380.84 176.90 L381.00 176.68 L381.16 176.45 L381.32 176.22 L381.48 175.99 L381.64 175.77 L381.80 175.55 L381.95 175.32 L382.11 175.07 L382.27 174.81 L382.43 174.54 L382.59 174.26 L382.75 173.97 L382.91 173.67 L383.06 173.37 L383.22 173.07 L383.38 172.77 L383.54 172.47 L383.70 172.18 L383.86 171.89 L384.02 171.61 L384.17 171.34 L384.33 171.08 L384.49 170.83 L384.65 170.57 L384.81 170.31 L384.97 170.05 L385.13 169.78 L385.28 169.52 L385.44 169.26 L385.60 169.01 L385.76 168.75 L385.92 168.50 L386.08 168.25 L386.23 168.01 L386.39 167.78 L386.55 167.55 L386.71 167.33 L386.87 167.12 L387.03 166.91 L387.19 166.72 L387.34 166.54 L387.50 166.37 L387.66 166.21 L387.82 166.07 L387.98 165.92 L388.14 165.77 L388.30 165.63 L388.45 165.48 L388.61 165.34 L388.77 165.20 L388.93 165.06 L389.09 164.92 L389.25 164.79 L389.41 164.66 L389.56 164.54 L389.72 164.41 L389.88 164.30 L390.04 164.18 L390.20 164.08 L390.36 163.97 L390.52 163.88 L390.67 163.78 L390.83 163.70 L390.99 163.62 L391.15 163.55 L391.31 163.48 L391.47 163.43 L391.63 163.38 L391.78 163.33 L391.94 163.30 L392.10 163.27 L392.26 163.25 L392.42 163.22 L392.58 163.20 L392.73 163.17 L392.89 163.15 L393.05 163.13 L393.21 163.10 L393.37 163.08 L393.53 163.06 L393.69 163.04 L393.84 163.03 L394.00 163.01 L394.16 162.99 L394.32 162.98 L394.48 162.96 L394.64 162.95 L394.80 162.94 L394.95 162.92 L395.11 162.91 L395.27 162.91 L395.43 162.90 L395.59 162.89 L395.75 162.89 L395.91 162.88 L396.06 162.88 L396.22 162.88 L396.38 162.88 L396.54 162.88 L396.70 162.89 L396.86 162.90 L397.02 162.91 L397.17 162.93 L397.33 162.95 L397.49 162.97 L397.65 162.99 L397.81 163.01 L397.97 163.03 L398.12 163.06 L398.28 163.08 L398.44 163.11 L398.60 163.13 L398.76 163.16 L398.92 163.18 L399.08 163.20 L399.23 163.22 L399.39 163.24 L399.55 163.25 L399.71 163.27 L399.87 163.28 L400.03 163.29 L400.19 163.29 L400.34 163.29 L400.50 163.28 L400.66 163.27 L400.82 163.25 L400.98 163.22 L401.14 163.19 L401.30 163.16 L401.45 163.13 L401.61 163.09 L401.77 163.05 L401.93 163.02 L402.09 162.99 L402.25 162.95 L402.41 162.93 L402.56 162.91 L402.72 162.89 L402.88 162.88 L403.04 162.89 L403.20 163.06 L403.36 163.38 L403.52 163.76 L403.67 164.14 L403.83 164.42 L403.99 164.53 L404.15 164.48 L404.31 164.35 L404.47 164.16 L404.62 163.94 L404.78 163.70 L404.94 163.47 L405.10 163.28 L405.26 163.09 L405.42 162.88 L405.58 162.66 L405.73 162.45 L405.89 162.27 L406.05 162.14 L406.21 162.06 L406.37 162.06 L406.53 162.11 L406.69 162.19 L406.84 162.32 L407.00 162.46 L407.16 162.63 L407.32 162.80 L407.48 162.98 L407.64 163.14 L407.80 163.29 L407.95 163.45 L408.11 163.62 L408.27 163.80 L408.43 163.99 L408.59 164.18 L408.75 164.36 L408.91 164.53 L409.06 164.68 L409.22 164.81 L409.38 164.90 L409.54 164.96 L409.70 165.01 L409.86 165.05 L410.01 165.09 L410.17 165.12 L410.33 165.16 L410.49 165.19 L410.65 165.21 L410.81 165.23 L410.97 165.25 L411.12 165.26 L411.28 165.27 L411.44 165.28 L411.60 165.29 L411.76 165.30 L411.92 165.30 L412.08 165.31 L412.23 165.32 L412.39 165.32 L412.55 165.33 L412.71 165.33 L412.87 165.34 L413.03 165.34 L413.19 165.35 L413.34 165.35 L413.50 165.35 L413.66 165.35 L413.82 165.36 L413.98 165.36 L414.14 165.36 L414.30 165.36 L414.45 165.36 L414.61 165.36 L414.77 165.36 L414.93 165.36 L415.09 165.36 L415.25 165.36 L415.41 165.36 L415.56 165.36 L415.72 165.36 L415.88 165.36 L416.04 165.36 L416.20 165.36 L416.36 163.61 L416.51 158.81 L416.67 152.39 L416.83 145.67 L416.99 135.25 L417.15 123.95 L417.31 118.64 L417.47 122.20 L417.62 130.62 L417.78 140.50 L417.94 149.47 L418.10 160.31 L418.26 172.51 L418.42 184.89 L418.58 196.25 L418.73 205.39 L418.89 211.13 L419.05 212.31 L419.21 209.21 L419.37 203.59 L419.53 197.24 L419.69 191.36 L419.84 184.31 L420.00 177.28 L420.16 172.07 L420.32 169.46 L420.48 167.53 L420.64 166.06 L420.80 165.01 L420.95 164.18 L421.11 163.42 L421.27 162.84 L421.43 162.51 L421.59 162.48 L421.75 162.55 L421.90 162.67 L422.06 162.79 L422.22 162.86 L422.38 162.85 L422.54 162.67 L422.70 162.36 L422.86 161.98 L423.01 161.62 L423.17 161.35 L423.33 161.21 L423.49 161.16 L423.65 161.12 L423.81 161.08 L423.97 161.06 L424.12 161.03 L424.28 161.02 L424.44 161.00 L424.60 160.98 L424.76 160.95 L424.92 160.92 L425.08 160.89 L425.23 160.84 L425.39 160.76 L425.55 160.57 L425.71 160.31 L425.87 160.04 L426.03 159.79 L426.19 159.62 L426.34 159.57 L426.50 159.59 L426.66 159.63 L426.82 159.68 L426.98 159.74 L427.14 159.81 L427.30 159.87 L427.45 159.93 L427.61 159.96 L427.77 159.98 L427.93 159.97 L428.09 159.89 L428.25 159.77 L428.40 159.61 L428.56 159.42 L428.72 159.21 L428.88 158.98 L429.04 158.76 L429.20 158.54 L429.36 158.33 L429.51 158.15 L429.67 158.01 L429.83 157.90 L429.99 157.82 L430.15 157.73 L430.31 157.64 L430.47 157.56 L430.62 157.48 L430.78 157.41 L430.94 157.34 L431.10 157.27 L431.26 157.22 L431.42 157.17 L431.58 157.14 L431.73 157.11 L431.89 157.09 L432.05 157.09 L432.21 157.16 L432.37 157.30 L432.53 157.51 L432.69 157.78 L432.84 158.09 L433.00 158.44 L433.16 158.82 L433.32 159.21 L433.48 159.60 L433.64 159.99 L433.79 160.37 L433.95 160.74 L434.11 161.13 L434.27 161.53 L434.43 161.96 L434.59 162.40 L434.75 162.86 L434.90 163.35 L435.06 163.86 L435.22 164.40 L435.38 164.96 L435.54 165.54 L435.70 166.16 L435.86 166.81 L436.01 167.62 L436.17 168.58 L436.33 169.64 L436.49 170.76 L436.65 171.86 L436.81 172.92 L436.97 173.86 L437.12 174.64 L437.28 175.21 L437.44 175.62 L437.60 176.01 L437.76 176.39 L437.92 176.73 L438.08 177.04 L438.23 177.30 L438.39 177.51 L438.55 177.66 L438.71 177.75 L438.87 177.76 L439.03 177.71 L439.19 177.63 L439.34 177.50 L439.50 177.35 L439.66 177.16 L439.82 176.96 L439.98 176.74 L440.14 176.51 L440.29 176.28 L440.45 176.05 L440.61 175.82 L440.77 175.61 L440.93 175.38 L441.09 175.14 L441.25 174.88 L441.40 174.61 L441.56 174.33 L441.72 174.04 L441.88 173.75 L442.04 173.45 L442.20 173.15 L442.36 172.84 L442.51 172.54 L442.67 172.25 L442.83 171.96 L442.99 171.68 L443.15 171.40 L443.31 171.14 L443.47 170.89 L443.62 170.63 L443.78 170.37 L443.94 170.11 L444.10 169.85 L444.26 169.59 L444.42 169.33 L444.58 169.07 L444.73 168.81 L444.89 168.56 L445.05 168.31 L445.21 168.07 L445.37 167.84 L445.53 167.61 L445.68 167.38 L445.84 167.17 L446.00 166.96 L446.16 166.77 L446.32 166.58 L446.48 166.41 L446.64 166.25 L446.79 166.10 L446.95 165.95 L447.11 165.81 L447.27 165.66 L447.43 165.52 L447.59 165.37 L447.75 165.23 L447.90 165.09 L448.06 164.96 L448.22 164.82 L448.38 164.69 L448.54 164.57 L448.70 164.44 L448.86 164.33 L449.01 164.21 L449.17 164.10 L449.33 164.00 L449.49 163.90 L449.65 163.81 L449.81 163.72 L449.97 163.64 L450.12 163.57 L450.28 163.50 L450.44 163.44 L450.60 163.39 L450.76 163.34 L450.92 163.31 L451.08 163.28 L451.23 163.25 L451.39 163.23 L451.55 163.20 L451.71 163.18 L451.87 163.16 L452.03 163.13 L452.18 163.11 L452.34 163.09 L452.50 163.07 L452.66 163.05 L452.82 163.03 L452.98 163.01 L453.14 163.00 L453.29 162.98 L453.45 162.97 L453.61 162.95 L453.77 162.94 L453.93 162.93 L454.09 162.92 L454.25 162.91 L454.40 162.90 L454.56 162.89 L454.72 162.89 L454.88 162.88 L455.04 162.88 L455.20 162.88 L455.36 162.88 L455.51 162.88 L455.67 162.89 L455.83 162.90 L455.99 162.91 L456.15 162.92 L456.31 162.94 L456.47 162.96 L456.62 162.98 L456.78 163.00 L456.94 163.03 L457.10 163.05 L457.26 163.08 L457.42 163.10 L457.57 163.13 L457.73 163.15 L457.89 163.17 L458.05 163.19 L458.21 163.21 L458.37 163.23 L458.53 163.25 L458.68 163.26 L458.84 163.28 L459.00 163.28 L459.16 163.29 L459.32 163.29 L459.48 163.29 L459.64 163.27 L459.79 163.26 L459.95 163.23 L460.11 163.20 L460.27 163.17 L460.43 163.14 L460.59 163.10 L460.75 163.06 L460.90 163.03 L461.06 162.99 L461.22 162.96 L461.38 162.93 L461.54 162.91 L461.70 162.89 L461.86 162.88 L462.01 162.88 L462.17 163.00 L462.33 163.29 L462.49 163.66 L462.65 164.05 L462.81 164.36 L462.97 164.52 L463.12 164.50 L463.28 164.39 L463.44 164.21 L463.60 164.00 L463.76 163.76 L463.92 163.53 L464.07 163.33 L464.23 163.14 L464.39 162.93 L464.55 162.72 L464.71 162.50 L464.87 162.32 L465.03 162.17 L465.18 162.07 L465.34 162.05 L465.50 162.09 L465.66 162.17 L465.82 162.28 L465.98 162.43 L466.14 162.59 L466.29 162.76 L466.45 162.93 L466.61 163.10 L466.77 163.26 L466.93 163.41 L467.09 163.57 L467.25 163.76 L467.40 163.94 L467.56 164.13 L467.72 164.32 L467.88 164.49 L468.04 164.65 L468.20 164.78 L468.36 164.88 L468.51 164.95 L468.67 165.00 L468.83 165.04 L468.99 165.08 L469.15 165.12 L469.31 165.16 L469.46 165.19 L469.62 165.22 L469.78 165.24 L469.94 165.26 L470.10 165.27 L470.26 165.28 L470.42 165.27 L470.57 165.25 L470.73 165.22 L470.89 165.18 L471.05 165.13 L471.21 165.07 L471.37 165.00 L471.53 164.94 L471.68 164.87 L471.84 164.80 L472.00 164.74 L472.16 164.68 L472.32 164.63 L472.48 164.59 L472.64 164.55 L472.79 164.54 L472.95 164.55 L473.11 164.75 L473.27 165.06 L473.43 165.31 L473.59 165.36 L473.75 165.36 L473.90 165.36 L474.06 165.36 L474.22 165.36 L474.38 165.36 L474.54 165.36 L474.70 165.36 L474.86 165.36 L475.01 165.36 L475.17 165.36 L475.33 165.36 L475.49 164.95 L475.65 161.46 L475.81 155.63 L475.96 148.98 L476.12 141.25 L476.28 130.22 L476.44 121.66 L476.60 121.18 L476.76 127.13 L476.92 136.07 L477.07 144.93 L477.23 154.40 L477.39 165.97 L477.55 178.41 L477.71 190.51 L477.87 201.02 L478.03 208.71 L478.18 212.35 L478.34 211.18 L478.50 206.60 L478.66 200.40 L478.82 194.34 L478.98 187.94 L479.14 180.68 L479.29 174.34 L479.45 170.62 L479.61 168.43 L479.77 166.74 L479.93 165.49 L480.09 164.59 L480.25 163.78 L480.40 163.11 L480.56 162.64 L480.72 162.46 L480.88 162.51 L481.04 162.61 L481.20 162.73 L481.35 162.83 L481.51 162.88 L481.67 162.78 L481.83 162.52 L481.99 162.17 L482.15 161.80 L482.31 161.47 L482.46 161.26 L482.62 161.19 L482.78 161.14 L482.94 161.10 L483.10 161.07 L483.26 161.04 L483.42 161.02 L483.57 161.01 L483.73 160.99 L483.89 160.97 L484.05 160.94 L484.21 160.91 L484.37 160.86 L484.53 160.81 L484.68 160.68 L484.84 160.45 L485.00 160.17 L485.16 159.90 L485.32 159.69 L485.48 159.58 L485.64 159.58 L485.79 159.61 L485.95 159.65 L486.11 159.71 L486.27 159.78 L486.43 159.84 L486.59 159.90 L486.75 159.95 L486.90 159.98 L487.06 159.98 L487.22 159.94 L487.38 159.84 L487.54 159.69 L487.70 159.52 L487.85 159.32 L488.01 159.10 L488.17 158.87 L488.33 158.65 L488.49 158.43 L488.65 158.24 L488.81 158.08 L488.96 157.95 L489.12 157.86 L489.28 157.77 L489.44 157.68 L489.60 157.60 L489.76 157.52 L489.92 157.44 L490.07 157.37 L490.23 157.30 L490.39 157.25 L490.55 157.19 L490.71 157.15 L490.87 157.12 L491.03 157.10 L491.18 157.09 L491.34 157.12 L491.50 157.22 L491.66 157.40 L491.82 157.64 L491.98 157.93 L492.14 158.26 L492.29 158.63 L492.45 159.01 L492.61 159.40 L492.77 159.80 L492.93 160.18 L493.09 160.55 L493.24 160.93 L493.40 161.33 L493.56 161.74 L493.72 162.18 L493.88 162.63 L494.04 163.10 L494.20 163.60 L494.35 164.13 L494.51 164.67 L494.67 165.25 L494.83 165.85 L494.99 166.48 L495.15 167.19 L495.31 168.08 L495.46 169.10 L495.62 170.20 L495.78 171.31 L495.94 172.40 L496.10 173.40 L496.26 174.27 L496.42 174.96 L496.57 175.42 L496.73 175.82 L496.89 176.20 L497.05 176.56 L497.21 176.89 L497.37 177.17 L497.53 177.41 L497.68 177.59 L497.84 177.71 L498.00 177.76 L498.16 177.74 L498.32 177.67 L498.48 177.57 L498.64 177.43 L498.79 177.26 L498.95 177.06 L499.11 176.85 L499.27 176.63 L499.43 176.39 L499.59 176.16 L499.74 175.93 L499.90 175.71 L500.06 175.50 L500.22 175.26 L500.38 175.01 L500.54 174.75 L500.70 174.47 L500.85 174.19 L501.01 173.89 L501.17 173.60 L501.33 173.30 L501.49 172.99 L501.65 172.69 L501.81 172.40 L501.96 172.10 L502.12 171.82 L502.28 171.54 L502.44 171.27 L502.60 171.02 L502.76 170.76 L502.92 170.50 L503.07 170.24 L503.23 169.98 L503.39 169.72 L503.55 169.46 L503.71 169.20 L503.87 168.94 L504.03 168.69 L504.18 168.44 L504.34 168.19 L504.50 167.95 L504.66 167.72 L504.82 167.49 L504.98 167.27 L505.13 167.07 L505.29 166.87 L505.45 166.68 L505.61 166.50 L505.77 166.33 L505.93 166.18 L506.09 166.03 L506.24 165.88 L506.40 165.73 L506.56 165.59 L506.72 165.44 L506.88 165.30 L507.04 165.16 L507.20 165.03 L507.35 164.89 L507.51 164.76 L507.67 164.63 L507.83 164.51 L507.99 164.39 L508.15 164.27 L508.31 164.16 L508.46 164.05 L508.62 163.95 L508.78 163.85 L508.94 163.76 L509.10 163.68 L509.26 163.60 L509.42 163.53 L509.57 163.47 L509.73 163.41 L509.89 163.36 L510.05 163.32 L510.21 163.29 L510.37 163.27 L510.53 163.24 L510.68 163.22 L510.84 163.19 L511.00 163.17 L511.16 163.14 L511.32 163.12 L511.48 163.10 L511.63 163.08 L511.79 163.06 L511.95 163.04 L512.11 163.02 L512.27 163.00 L512.43 162.99 L512.59 162.97 L512.74 162.96 L512.90 162.95 L513.06 162.93 L513.22 162.92 L513.38 162.91 L513.54 162.90 L513.70 162.90 L513.85 162.89 L514.01 162.88 L514.17 162.88 L514.33 162.88 L514.49 162.88 L514.65 162.88 L514.81 162.88 L514.96 162.89 L515.12 162.90 L515.28 162.92 L515.44 162.93 L515.60 162.95 L515.76 162.97 L515.92 162.99 L516.07 163.02 L516.23 163.04 L516.39 163.06 L516.55 163.09 L516.71 163.11 L516.87 163.14 L517.02 163.16 L517.18 163.18 L517.34 163.20 L517.50 163.22 L517.66 163.24 L517.82 163.26 L517.98 163.27 L518.13 163.28 L518.29 163.29 L518.45 163.29 L518.61 163.29 L518.77 163.28 L518.93 163.27 L519.09 163.24 L519.24 163.22 L519.40 163.19 L519.56 163.15 L519.72 163.12 L519.88 163.08 L520.04 163.05 L520.20 163.01 L520.35 162.98 L520.51 162.95 L520.67 162.92 L520.83 162.90 L520.99 162.89 L521.15 162.88 L521.31 162.91 L521.46 163.13 L521.62 163.47 L521.78 163.86 L521.94 164.22 L522.10 164.47 L522.26 164.53 L522.42 164.46 L522.57 164.31 L522.73 164.11 L522.89 163.88 L523.05 163.64 L523.21 163.42 L523.37 163.24 L523.52 163.04 L523.68 162.82 L523.84 162.61 L524.00 162.41 L524.16 162.24 L524.32 162.11 L524.48 162.05 L524.63 162.06 L524.79 162.12 L524.95 162.22 L525.11 162.35 L525.27 162.50 L525.43 162.67 L525.59 162.85 L525.74 163.02 L525.90 163.18 L526.06 163.33 L526.22 163.49 L526.38 163.66 L526.54 163.85 L526.70 164.04 L526.85 164.23 L527.01 164.40 L527.17 164.57 L527.33 164.71 L527.49 164.83 L527.65 164.92 L527.81 164.97 L527.96 165.02 L528.12 165.06 L528.28 165.10 L528.44 165.14 L528.60 165.18 L528.76 165.21 L528.91 165.23 L529.07 165.25 L529.23 165.26 L529.39 165.27 L529.55 165.27 L529.71 165.26 L529.87 165.24 L530.02 165.20 L530.18 165.15 L530.34 165.10 L530.50 165.04 L530.66 164.97 L530.82 164.90 L530.98 164.84 L531.13 164.77 L531.29 164.71 L531.45 164.65 L531.61 164.61 L531.77 164.57 L531.93 164.54 L532.09 164.53 L532.24 164.54 L532.40 164.58 L532.56 164.64 L532.72 164.72 L532.88 164.81 L533.04 164.91 L533.20 165.01 L533.35 165.10 L533.51 165.19 L533.67 165.27 L533.83 165.32 L533.99 165.35 L534.15 165.36 L534.31 165.36 L534.46 165.36 L534.62 165.36 L534.78 165.36 L534.94 165.36 L535.10 165.36 L535.26 165.36 L535.41 165.36 L535.57 165.36 L535.73 165.36 L535.89 165.36 L536.05 164.94 L536.21 161.40 L536.37 155.55 L536.52 148.93 L536.68 141.50 L536.84 131.17 L537.00 123.22 L537.16 122.77 L537.32 128.30 L537.48 136.62 L537.63 144.92 L537.79 153.85 L537.95 164.83 L538.11 176.67 L538.27 188.20 L538.43 198.22 L538.59 205.57 L538.74 209.05 L538.90 208.16 L539.06 204.53 L539.22 199.49 L539.38 194.33 L539.54 188.26 L539.70 180.95 L539.85 174.41 L540.01 170.62 L540.17 168.43 L540.33 166.74 L540.49 165.49 L540.65 164.59 L540.80 163.78 L540.96 163.11 L541.12 162.64 L541.28 162.46 L541.44 162.51 L541.60 162.61 L541.76 162.73 L541.91 162.83 L542.07 162.88 L542.23 162.78 L542.39 162.52 L542.55 162.17 L542.71 161.80 L542.87 161.47 L543.02 161.26 L543.18 161.19 L543.34 161.14 L543.50 161.10" stroke="#2583C7" stroke-width="1.25"/>
<path d="M305.70 141.52 L305.86 141.46 L306.02 141.42 L306.18 141.39 L306.33 141.38 L306.49 141.40 L306.65 141.45 L306.81 141.55 L306.97 141.68 L307.13 141.84 L307.29 142.04 L307.44 142.26 L307.60 142.50 L307.76 142.77 L307.92 143.05 L308.08 143.34 L308.24 143.65 L308.40 143.96 L308.55 144.28 L308.71 144.60 L308.87 144.92 L309.03 145.23 L309.19 145.56 L309.35 145.93 L309.50 146.32 L309.66 146.76 L309.82 147.23 L309.98 147.75 L310.14 148.31 L310.30 148.96 L310.46 149.75 L310.61 150.64 L310.77 151.62 L310.93 152.65 L311.09 153.70 L311.25 154.75 L311.41 155.78 L311.57 156.82 L311.72 157.88 L311.88 158.99 L312.04 160.17 L312.20 161.43 L312.36 162.81 L312.52 164.33 L312.68 166.00 L312.83 167.88 L312.99 170.25 L313.15 173.07 L313.31 176.26 L313.47 179.71 L313.63 183.48 L313.79 188.78 L313.94 195.10 L314.10 201.55 L314.26 207.20 L314.42 211.15 L314.58 212.48 L314.74 211.72 L314.89 209.84 L315.05 207.07 L315.21 203.65 L315.37 199.84 L315.53 195.86 L315.69 191.96 L315.85 188.26 L316.00 184.24 L316.16 179.82 L316.32 175.00 L316.48 169.70 L316.64 163.81 L316.80 157.37 L316.96 150.45 L317.11 142.58 L317.27 133.74 L317.43 124.91 L317.59 117.05 L317.75 109.74 L317.91 102.65 L318.07 96.06 L318.22 90.25 L318.38 85.50 L318.54 81.37 L318.70 77.54 L318.86 74.06 L319.02 71.01 L319.18 68.45 L319.33 66.46 L319.49 64.88 L319.65 63.38 L319.81 62.02 L319.97 60.88 L320.13 60.04 L320.29 59.59 L320.44 59.59 L320.60 60.04 L320.76 60.88 L320.92 62.02 L321.08 63.38 L321.24 64.88 L321.39 66.46 L321.55 68.51 L321.71 71.17 L321.87 74.32 L322.03 77.84 L322.19 81.61 L322.35 85.53 L322.50 89.95 L322.66 95.27 L322.82 101.05 L322.98 106.83 L323.14 112.16 L323.30 116.59 L323.46 120.32 L323.61 123.64 L323.77 126.66 L323.93 129.47 L324.09 132.19 L324.25 134.92 L324.41 137.75 L324.57 140.79 L324.72 144.15 L324.88 147.92 L325.04 152.50 L325.20 159.10 L325.36 166.36 L325.52 172.52 L325.68 175.80 L325.83 177.26 L325.99 178.50 L326.15 179.49 L326.31 180.20 L326.47 180.59 L326.63 180.62 L326.78 180.26 L326.94 179.57 L327.10 178.63 L327.26 177.53 L327.42 176.36 L327.58 175.18 L327.74 173.78 L327.89 172.02 L328.05 170.00 L328.21 167.80 L328.37 165.53 L328.53 163.29 L328.69 161.15 L328.85 159.23 L329.00 157.60 L329.16 156.28 L329.32 154.97 L329.48 153.66 L329.64 152.36 L329.80 151.10 L329.96 149.89 L330.11 148.76 L330.27 147.73 L330.43 146.82 L330.59 146.04 L330.75 145.42 L330.91 144.98 L331.07 144.73 L331.22 144.72 L331.38 145.04 L331.54 145.68 L331.70 146.55 L331.86 147.58 L332.02 148.71 L332.18 149.85 L332.33 150.99 L332.49 152.36 L332.65 153.98 L332.81 155.81 L332.97 157.79 L333.13 159.87 L333.28 161.99 L333.44 164.10 L333.60 166.16 L333.76 168.11 L333.92 169.90 L334.08 171.48 L334.24 172.80 L334.39 173.80 L334.55 174.72 L334.71 175.58 L334.87 176.31 L335.03 176.79 L335.19 176.93 L335.35 176.69 L335.50 176.15 L335.66 175.39 L335.82 174.49 L335.98 173.52 L336.14 172.14 L336.30 170.16 L336.46 167.73 L336.61 164.99 L336.77 162.08 L336.93 159.15 L337.09 156.34 L337.25 153.79 L337.41 151.65 L337.57 150.05 L337.72 148.80 L337.88 147.62 L338.04 146.52 L338.20 145.48 L338.36 144.52 L338.52 143.63 L338.67 142.82 L338.83 142.08 L338.99 141.41 L339.15 140.82 L339.31 140.30 L339.47 139.84 L339.63 139.40 L339.78 138.96 L339.94 138.53 L340.10 138.13 L340.26 137.74 L340.42 137.39 L340.58 137.06 L340.74 136.77 L340.89 136.52 L341.05 136.31 L341.21 136.16 L341.37 136.05 L341.53 136.01 L341.69 136.02 L341.85 136.08 L342.00 136.18 L342.16 136.32 L342.32 136.50 L342.48 136.70 L342.64 136.93 L342.80 137.18 L342.96 137.45 L343.11 137.73 L343.27 138.02 L343.43 138.32 L343.59 138.62 L343.75 138.92 L343.91 139.21 L344.07 139.50 L344.22 139.83 L344.38 140.20 L344.54 140.60 L344.70 141.03 L344.86 141.48 L345.02 141.94 L345.17 142.42 L345.33 142.90 L345.49 143.39 L345.65 143.88 L345.81 144.35 L345.97 144.82 L346.13 145.27 L346.28 145.70 L346.44 146.10 L346.60 146.47 L346.76 146.80 L346.92 147.09 L347.08 147.35 L347.24 147.61 L347.39 147.87 L347.55 148.13 L347.71 148.38 L347.87 148.64 L348.03 148.89 L348.19 149.14 L348.35 149.39 L348.50 149.63 L348.66 149.87 L348.82 150.10 L348.98 150.33 L349.14 150.55 L349.30 150.77 L349.46 150.98 L349.61 151.18 L349.77 151.37 L349.93 151.56 L350.09 151.73 L350.25 151.90 L350.41 152.06 L350.56 152.20 L350.72 152.34 L350.88 152.46 L351.04 152.57 L351.20 152.67 L351.36 152.75 L351.52 152.82 L351.67 152.88 L351.83 152.92 L351.99 152.95 L352.15 152.96 L352.31 152.95 L352.47 152.94 L352.63 152.93 L352.78 152.90 L352.94 152.88 L353.10 152.84 L353.26 152.80 L353.42 152.76 L353.58 152.71 L353.74 152.66 L353.89 152.60 L354.05 152.54 L354.21 152.48 L354.37 152.41 L354.53 152.34 L354.69 152.27 L354.85 152.20 L355.00 152.13 L355.16 152.05 L355.32 151.98 L355.48 151.90 L355.64 151.82 L355.80 151.75 L355.96 151.67 L356.11 151.59 L356.27 151.49 L356.43 151.39 L356.59 151.28 L356.75 151.16 L356.91 151.04 L357.06 150.91 L357.22 150.77 L357.38 150.62 L357.54 150.47 L357.70 150.31 L357.86 150.15 L358.02 149.98 L358.17 149.81 L358.33 149.63 L358.49 149.45 L358.65 149.26 L358.81 149.07 L358.97 148.88 L359.13 148.68 L359.28 148.48 L359.44 148.28 L359.60 148.08 L359.76 147.87 L359.92 147.66 L360.08 147.45 L360.24 147.24 L360.39 147.03 L360.55 146.81 L360.71 146.60 L360.87 146.39 L361.03 146.18 L361.19 145.96 L361.35 145.75 L361.50 145.54 L361.66 145.34 L361.82 145.13 L361.98 144.93 L362.14 144.72 L362.30 144.52 L362.45 144.33 L362.61 144.14 L362.77 143.95 L362.93 143.76 L363.09 143.58 L363.25 143.40 L363.41 143.23 L363.56 143.06 L363.72 142.90 L363.88 142.75 L364.04 142.60 L364.20 142.45 L364.36 142.32 L364.52 142.18 L364.67 142.06 L364.83 141.95 L364.99 141.84 L365.15 141.74 L365.31 141.63 L365.47 141.52 L365.63 141.42 L365.78 141.31 L365.94 141.20 L366.10 141.10 L366.26 141.00 L366.42 140.91 L366.58 140.83 L366.74 140.75 L366.89 140.69 L367.05 140.63 L367.21 140.59 L367.37 140.57 L367.53 140.55 L367.69 140.57 L367.85 140.62 L368.00 140.72 L368.16 140.85 L368.32 141.02 L368.48 141.21 L368.64 141.43 L368.80 141.68 L368.95 141.94 L369.11 142.22 L369.27 142.52 L369.43 142.82 L369.59 143.14 L369.75 143.45 L369.91 143.77 L370.06 144.09 L370.22 144.40 L370.38 144.73 L370.54 145.09 L370.70 145.47 L370.86 145.90 L371.02 146.37 L371.17 146.90 L371.33 147.48 L371.49 148.18 L371.65 149.08 L371.81 150.13 L371.97 151.27 L372.13 152.46 L372.28 153.65 L372.44 154.79 L372.60 155.88 L372.76 156.95 L372.92 158.01 L373.08 159.11 L373.24 160.27 L373.39 161.51 L373.55 162.86 L373.71 164.35 L373.87 166.00 L374.03 167.88 L374.19 170.25 L374.34 173.07 L374.50 176.26 L374.66 179.71 L374.82 183.48 L374.98 188.78 L375.14 195.10 L375.30 201.55 L375.45 207.20 L375.61 211.15 L375.77 212.48 L375.93 211.72 L376.09 209.84 L376.25 207.07 L376.41 203.65 L376.56 199.84 L376.72 195.86 L376.88 191.96 L377.04 188.26 L377.20 184.24 L377.36 179.82 L377.52 175.00 L377.67 169.70 L377.83 163.81 L377.99 157.37 L378.15 150.45 L378.31 142.58 L378.47 133.74 L378.63 124.91 L378.78 117.05 L378.94 109.74 L379.10 102.65 L379.26 96.06 L379.42 90.25 L379.58 85.50 L379.74 81.38 L379.89 77.57 L380.05 74.12 L380.21 71.08 L380.37 68.51 L380.53 66.47 L380.69 64.82 L380.84 63.23 L381.00 61.78 L381.16 60.57 L381.32 59.67 L381.48 59.18 L381.64 59.18 L381.80 59.67 L381.95 60.57 L382.11 61.78 L382.27 63.23 L382.43 64.82 L382.59 66.47 L382.75 68.57 L382.91 71.24 L383.06 74.38 L383.22 77.87 L383.38 81.63 L383.54 85.53 L383.70 89.95 L383.86 95.27 L384.02 101.05 L384.17 106.83 L384.33 112.16 L384.49 116.59 L384.65 120.49 L384.81 124.15 L384.97 127.61 L385.13 130.90 L385.28 134.04 L385.44 137.07 L385.60 140.01 L385.76 142.89 L385.92 145.74 L386.08 148.59 L386.23 151.48 L386.39 154.49 L386.55 157.58 L386.71 160.66 L386.87 163.66 L387.03 166.51 L387.19 169.13 L387.34 171.45 L387.50 173.40 L387.66 174.90 L387.82 176.16 L387.98 177.36 L388.14 178.42 L388.30 179.24 L388.45 179.73 L388.61 179.80 L388.77 179.45 L388.93 178.77 L389.09 177.84 L389.25 176.75 L389.41 175.57 L389.56 174.41 L389.72 173.07 L389.88 171.42 L390.04 169.53 L390.20 167.49 L390.36 165.37 L390.52 163.25 L390.67 161.21 L390.83 159.33 L390.99 157.69 L391.15 156.30 L391.31 154.88 L391.47 153.43 L391.63 152.00 L391.78 150.61 L391.94 149.30 L392.10 148.11 L392.26 147.06 L392.42 146.21 L392.58 145.57 L392.73 145.19 L392.89 145.11 L393.05 145.40 L393.21 146.02 L393.37 146.88 L393.53 147.91 L393.69 149.02 L393.84 150.14 L394.00 151.18 L394.16 152.31 L394.32 153.57 L394.48 154.94 L394.64 156.40 L394.80 157.93 L394.95 159.52 L395.11 161.13 L395.27 162.75 L395.43 164.35 L395.59 165.93 L395.75 167.45 L395.91 168.90 L396.06 170.25 L396.22 171.49 L396.38 172.59 L396.54 173.53 L396.70 174.40 L396.86 175.29 L397.02 176.08 L397.17 176.66 L397.33 176.93 L397.49 176.80 L397.65 176.35 L397.81 175.64 L397.97 174.77 L398.12 173.82 L398.28 172.64 L398.44 170.84 L398.60 168.56 L398.76 165.92 L398.92 163.08 L399.08 160.15 L399.23 157.30 L399.39 154.64 L399.55 152.33 L399.71 150.49 L399.87 149.12 L400.03 147.84 L400.19 146.62 L400.34 145.47 L400.50 144.39 L400.66 143.39 L400.82 142.47 L400.98 141.63 L401.14 140.87 L401.30 140.21 L401.45 139.63 L401.61 139.15 L401.77 138.70 L401.93 138.25 L402.09 137.82 L402.25 137.40 L402.41 137.01 L402.56 136.65 L402.72 136.31 L402.88 136.01 L403.04 135.75 L403.20 135.54 L403.36 135.37 L403.52 135.25 L403.67 135.19 L403.83 135.19 L403.99 135.23 L404.15 135.32 L404.31 135.45 L404.47 135.61 L404.62 135.81 L404.78 136.03 L404.94 136.27 L405.10 136.54 L405.26 136.82 L405.42 137.11 L405.58 137.40 L405.73 137.70 L405.89 138.00 L406.05 138.30 L406.21 138.58 L406.37 138.89 L406.53 139.24 L406.69 139.60 L406.84 140.00 L407.00 140.41 L407.16 140.84 L407.32 141.28 L407.48 141.74 L407.64 142.20 L407.80 142.66 L407.95 143.13 L408.11 143.59 L408.27 144.05 L408.43 144.50 L408.59 144.93 L408.75 145.35 L408.91 145.75 L409.06 146.13 L409.22 146.49 L409.38 146.85 L409.54 147.22 L409.70 147.60 L409.86 147.99 L410.01 148.39 L410.17 148.79 L410.33 149.18 L410.49 149.58 L410.65 149.98 L410.81 150.37 L410.97 150.75 L411.12 151.12 L411.28 151.48 L411.44 151.83 L411.60 152.16 L411.76 152.48 L411.92 152.77 L412.08 153.05 L412.23 153.30 L412.39 153.52 L412.55 153.72 L412.71 153.88 L412.87 154.01 L413.03 154.11 L413.19 154.17 L413.34 154.20 L413.50 154.19 L413.66 154.18 L413.82 154.17 L413.98 154.15 L414.14 154.12 L414.30 154.09 L414.45 154.05 L414.61 154.01 L414.77 153.96 L414.93 153.91 L415.09 153.86 L415.25 153.80 L415.41 153.74 L415.56 153.67 L415.72 153.60 L415.88 153.53 L416.04 153.46 L416.20 153.39 L416.36 153.31 L416.51 153.23 L416.67 153.15 L416.83 153.07 L416.99 152.99 L417.15 152.91 L417.31 152.80 L417.47 152.68 L417.62 152.54 L417.78 152.39 L417.94 152.22 L418.10 152.04 L418.26 151.84 L418.42 151.63 L418.58 151.40 L418.73 151.17 L418.89 150.93 L419.05 150.67 L419.21 150.41 L419.37 150.15 L419.53 149.87 L419.69 149.60 L419.84 149.31 L420.00 149.03 L420.16 148.74 L420.32 148.45 L420.48 148.16 L420.64 147.87 L420.80 147.59 L420.95 147.30 L421.11 147.02 L421.27 146.74 L421.43 146.47 L421.59 146.21 L421.75 145.95 L421.90 145.70 L422.06 145.46 L422.22 145.23 L422.38 145.01 L422.54 144.80 L422.70 144.60 L422.86 144.42 L423.01 144.25 L423.17 144.10 L423.33 143.97 L423.49 143.85 L423.65 143.74 L423.81 143.63 L423.97 143.52 L424.12 143.41 L424.28 143.30 L424.44 143.20 L424.60 143.10 L424.76 143.01 L424.92 142.92 L425.08 142.85 L425.23 142.78 L425.39 142.72 L425.55 142.68 L425.71 142.64 L425.87 142.62 L426.03 142.62 L426.19 142.66 L426.34 142.73 L426.50 142.85 L426.66 143.00 L426.82 143.18 L426.98 143.38 L427.14 143.62 L427.30 143.87 L427.45 144.15 L427.61 144.43 L427.77 144.74 L427.93 145.05 L428.09 145.36 L428.25 145.68 L428.40 146.00 L428.56 146.31 L428.72 146.64 L428.88 147.00 L429.04 147.40 L429.20 147.82 L429.36 148.28 L429.51 148.77 L429.67 149.29 L429.83 149.84 L429.99 150.43 L430.15 151.08 L430.31 151.78 L430.47 152.54 L430.62 153.35 L430.78 154.22 L430.94 155.14 L431.10 156.10 L431.26 157.12 L431.42 158.21 L431.58 159.38 L431.73 160.64 L431.89 162.01 L432.05 163.50 L432.21 165.13 L432.37 166.90 L432.53 169.00 L432.69 171.61 L432.84 174.62 L433.00 177.95 L433.16 181.50 L433.32 185.94 L433.48 191.87 L433.64 198.37 L433.79 204.53 L433.95 209.45 L434.11 212.20 L434.27 212.26 L434.43 210.91 L434.59 208.55 L434.75 205.43 L434.90 201.78 L435.06 197.85 L435.22 193.88 L435.38 190.11 L435.54 186.30 L435.70 182.08 L435.86 177.46 L436.01 172.43 L436.17 166.83 L436.33 160.65 L436.49 153.96 L436.65 146.70 L436.81 138.22 L436.97 129.26 L437.12 120.81 L437.28 113.39 L437.44 106.15 L437.60 99.27 L437.76 93.04 L437.92 87.72 L438.08 83.38 L438.23 79.27 L438.39 75.44 L438.55 72.05 L438.71 69.23 L438.87 67.11 L439.03 65.81 L439.19 64.79 L439.34 63.88 L439.50 63.11 L439.66 62.52 L439.82 62.14 L439.98 62.01 L440.14 62.14 L440.29 62.52 L440.45 63.11 L440.61 63.88 L440.77 64.79 L440.93 65.81 L441.09 67.13 L441.25 69.33 L441.40 72.26 L441.56 75.73 L441.72 79.55 L441.88 83.54 L442.04 87.60 L442.20 92.52 L442.36 98.13 L442.51 103.97 L442.67 109.58 L442.83 114.51 L442.99 118.58 L443.15 122.41 L443.31 126.05 L443.47 129.52 L443.62 132.82 L443.78 135.98 L443.94 139.00 L444.10 141.90 L444.26 144.70 L444.42 147.40 L444.58 150.02 L444.73 152.62 L444.89 155.22 L445.05 157.78 L445.21 160.26 L445.37 162.62 L445.53 164.82 L445.68 166.84 L445.84 168.62 L446.00 170.12 L446.16 171.37 L446.32 172.60 L446.48 173.74 L446.64 174.70 L446.79 175.39 L446.95 175.69 L447.11 175.53 L447.27 174.98 L447.43 174.13 L447.59 173.09 L447.75 171.95 L447.90 170.81 L448.06 169.74 L448.22 168.57 L448.38 167.31 L448.54 165.95 L448.70 164.53 L448.86 163.06 L449.01 161.55 L449.17 160.02 L449.33 158.49 L449.49 156.97 L449.65 155.29 L449.81 153.36 L449.97 151.27 L450.12 149.09 L450.28 146.92 L450.44 144.83 L450.60 142.90 L450.76 141.23 L450.92 139.88 L451.08 138.95 L451.23 138.51 L451.39 138.59 L451.55 139.03 L451.71 139.76 L451.87 140.70 L452.03 141.77 L452.18 142.91 L452.34 144.04 L452.50 145.21 L452.66 146.63 L452.82 148.26 L452.98 150.08 L453.14 152.04 L453.29 154.11 L453.45 156.26 L453.61 158.45 L453.77 160.64 L453.93 162.79 L454.09 164.88 L454.25 166.86 L454.40 168.70 L454.56 170.37 L454.72 171.82 L454.88 173.03 L455.04 173.97 L455.20 174.88 L455.36 175.73 L455.51 176.42 L455.67 176.84 L455.83 176.91 L455.99 176.61 L456.15 176.02 L456.31 175.22 L456.47 174.30 L456.62 173.31 L456.78 171.81 L456.94 169.74 L457.10 167.25 L457.26 164.48 L457.42 161.57 L457.57 158.65 L457.73 155.88 L457.89 153.39 L458.05 151.32 L458.21 149.80 L458.37 148.52 L458.53 147.31 L458.68 146.17 L458.84 145.11 L459.00 144.11 L459.16 143.19 L459.32 142.35 L459.48 141.59 L459.64 140.91 L459.79 140.31 L459.95 139.80 L460.11 139.34 L460.27 138.89 L460.43 138.45 L460.59 138.03 L460.75 137.63 L460.90 137.25 L461.06 136.90 L461.22 136.58 L461.38 136.30 L461.54 136.06 L461.70 135.86 L461.86 135.72 L462.01 135.63 L462.17 135.59 L462.33 135.62 L462.49 135.68 L462.65 135.79 L462.81 135.94 L462.97 136.12 L463.12 136.33 L463.28 136.56 L463.44 136.82 L463.60 137.09 L463.76 137.37 L463.92 137.67 L464.07 137.97 L464.23 138.27 L464.39 138.56 L464.55 138.85 L464.71 139.15 L464.87 139.48 L465.03 139.84 L465.18 140.22 L465.34 140.63 L465.50 141.06 L465.66 141.51 L465.82 141.96 L465.98 142.43 L466.14 142.90 L466.29 143.37 L466.45 143.84 L466.61 144.30 L466.77 144.75 L466.93 145.19 L467.09 145.61 L467.25 146.01 L467.40 146.38 L467.56 146.73 L467.72 147.06 L467.88 147.40 L468.04 147.75 L468.20 148.10 L468.36 148.46 L468.51 148.82 L468.67 149.18 L468.83 149.54 L468.99 149.89 L469.15 150.24 L469.31 150.59 L469.46 150.92 L469.62 151.25 L469.78 151.56 L469.94 151.86 L470.10 152.15 L470.26 152.42 L470.42 152.66 L470.57 152.89 L470.73 153.10 L470.89 153.28 L471.05 153.44 L471.21 153.57 L471.37 153.67 L471.53 153.74 L471.68 153.78 L471.84 153.78 L472.00 153.78 L472.16 153.76 L472.32 153.74 L472.48 153.72 L472.64 153.69 L472.79 153.65 L472.95 153.61 L473.11 153.57 L473.27 153.52 L473.43 153.46 L473.59 153.41 L473.75 153.35 L473.90 153.28 L474.06 153.22 L474.22 153.15 L474.38 153.07 L474.54 153.00 L474.70 152.93 L474.86 152.85 L475.01 152.77 L475.17 152.69 L475.33 152.61 L475.49 152.54 L475.65 152.45 L475.81 152.35 L475.96 152.24 L476.12 152.11 L476.28 151.97 L476.44 151.83 L476.60 151.67 L476.76 151.50 L476.92 151.32 L477.07 151.14 L477.23 150.94 L477.39 150.74 L477.55 150.53 L477.71 150.32 L477.87 150.10 L478.03 149.87 L478.18 149.64 L478.34 149.41 L478.50 149.17 L478.66 148.94 L478.82 148.69 L478.98 148.45 L479.14 148.21 L479.29 147.96 L479.45 147.72 L479.61 147.48 L479.77 147.24 L479.93 147.00 L480.09 146.76 L480.25 146.53 L480.40 146.30 L480.56 146.08 L480.72 145.86 L480.88 145.65 L481.04 145.44 L481.20 145.24 L481.35 145.05 L481.51 144.86 L481.67 144.69 L481.83 144.52 L481.99 144.37 L482.15 144.22 L482.31 144.09 L482.46 143.96 L482.62 143.85 L482.78 143.75 L482.94 143.64 L483.10 143.53 L483.26 143.42 L483.42 143.31 L483.57 143.21 L483.73 143.11 L483.89 143.02 L484.05 142.93 L484.21 142.85 L484.37 142.78 L484.53 142.72 L484.68 142.68 L484.84 142.64 L485.00 142.62 L485.16 142.62 L485.32 142.66 L485.48 142.73 L485.64 142.85 L485.79 143.00 L485.95 143.18 L486.11 143.38 L486.27 143.62 L486.43 143.87 L486.59 144.15 L486.75 144.43 L486.90 144.74 L487.06 145.05 L487.22 145.36 L487.38 145.68 L487.54 146.00 L487.70 146.31 L487.85 146.64 L488.01 147.00 L488.17 147.40 L488.33 147.82 L488.49 148.28 L488.65 148.77 L488.81 149.29 L488.96 149.84 L489.12 150.43 L489.28 151.08 L489.44 151.78 L489.60 152.54 L489.76 153.35 L489.92 154.22 L490.07 155.14 L490.23 156.10 L490.39 157.12 L490.55 158.21 L490.71 159.38 L490.87 160.64 L491.03 162.01 L491.18 163.50 L491.34 165.13 L491.50 166.90 L491.66 169.00 L491.82 171.61 L491.98 174.62 L492.14 177.95 L492.29 181.50 L492.45 185.94 L492.61 191.87 L492.77 198.37 L492.93 204.53 L493.09 209.45 L493.24 212.20 L493.40 212.26 L493.56 210.91 L493.72 208.55 L493.88 205.43 L494.04 201.78 L494.20 197.85 L494.35 193.88 L494.51 190.11 L494.67 186.30 L494.83 182.08 L494.99 177.46 L495.15 172.43 L495.31 166.83 L495.46 160.65 L495.62 153.96 L495.78 146.70 L495.94 138.22 L496.10 129.26 L496.26 120.81 L496.42 113.39 L496.57 106.15 L496.73 99.27 L496.89 93.04 L497.05 87.72 L497.21 83.38 L497.37 79.27 L497.53 75.44 L497.68 72.05 L497.84 69.23 L498.00 67.11 L498.16 65.81 L498.32 64.79 L498.48 63.88 L498.64 63.11 L498.79 62.52 L498.95 62.14 L499.11 62.01 L499.27 62.14 L499.43 62.52 L499.59 63.11 L499.74 63.88 L499.90 64.79 L500.06 65.81 L500.22 67.13 L500.38 69.33 L500.54 72.26 L500.70 75.73 L500.85 79.55 L501.01 83.54 L501.17 87.60 L501.33 92.52 L501.49 98.13 L501.65 103.97 L501.81 109.58 L501.96 114.51 L502.12 118.57 L502.28 122.36 L502.44 125.93 L502.60 129.32 L502.76 132.55 L502.92 135.65 L503.07 138.63 L503.23 141.54 L503.39 144.39 L503.55 147.21 L503.71 150.02 L503.87 152.90 L504.03 155.87 L504.18 158.86 L504.34 161.79 L504.50 164.61 L504.66 167.25 L504.82 169.64 L504.98 171.71 L505.13 173.39 L505.29 174.70 L505.45 175.94 L505.61 177.08 L505.77 178.03 L505.93 178.70 L506.09 178.99 L506.24 178.85 L506.40 178.32 L506.56 177.49 L506.72 176.47 L506.88 175.32 L507.04 174.15 L507.20 172.98 L507.35 171.57 L507.51 169.93 L507.67 168.13 L507.83 166.21 L507.99 164.25 L508.15 162.28 L508.31 160.38 L508.46 158.59 L508.62 156.97 L508.78 155.35 L508.94 153.62 L509.10 151.83 L509.26 150.03 L509.42 148.28 L509.57 146.63 L509.73 145.13 L509.89 143.85 L510.05 142.83 L510.21 142.14 L510.37 141.81 L510.53 141.90 L510.68 142.35 L510.84 143.09 L511.00 144.03 L511.16 145.11 L511.32 146.25 L511.48 147.35 L511.63 148.47 L511.79 149.78 L511.95 151.26 L512.11 152.88 L512.27 154.61 L512.43 156.42 L512.59 158.29 L512.74 160.20 L512.90 162.10 L513.06 163.97 L513.22 165.79 L513.38 167.52 L513.54 169.14 L513.70 170.62 L513.85 171.94 L514.01 173.05 L514.17 173.97 L514.33 174.87 L514.49 175.72 L514.65 176.41 L514.81 176.84 L514.96 176.91 L515.12 176.61 L515.28 176.02 L515.44 175.22 L515.60 174.30 L515.76 173.31 L515.92 171.79 L516.07 169.71 L516.23 167.19 L516.39 164.40 L516.55 161.46 L516.71 158.54 L516.87 155.77 L517.02 153.30 L517.18 151.27 L517.34 149.81 L517.50 148.62 L517.66 147.50 L517.82 146.46 L517.98 145.48 L518.13 144.58 L518.29 143.75 L518.45 142.99 L518.61 142.29 L518.77 141.67 L518.93 141.11 L519.09 140.62 L519.24 140.18 L519.40 139.73 L519.56 139.30 L519.72 138.88 L519.88 138.48 L520.04 138.10 L520.20 137.74 L520.35 137.42 L520.51 137.14 L520.67 136.89 L520.83 136.69 L520.99 136.55 L521.15 136.45 L521.31 136.42 L521.46 136.44 L521.62 136.51 L521.78 136.62 L521.94 136.77 L522.10 136.95 L522.26 137.15 L522.42 137.39 L522.57 137.64 L522.73 137.92 L522.89 138.20 L523.05 138.49 L523.21 138.79 L523.37 139.09 L523.52 139.39 L523.68 139.68 L523.84 139.98 L524.00 140.32 L524.16 140.69 L524.32 141.09 L524.48 141.52 L524.63 141.97 L524.79 142.43 L524.95 142.91 L525.11 143.40 L525.27 143.88 L525.43 144.36 L525.59 144.84 L525.74 145.30 L525.90 145.75 L526.06 146.17 L526.22 146.57 L526.38 146.94 L526.54 147.27 L526.70 147.56 L526.85 147.82 L527.01 148.09 L527.17 148.36 L527.33 148.62 L527.49 148.89 L527.65 149.15 L527.81 149.41 L527.96 149.67 L528.12 149.92 L528.28 150.17 L528.44 150.41 L528.60 150.64 L528.76 150.86 L528.91 151.08 L529.07 151.28 L529.23 151.47 L529.39 151.65 L529.55 151.81 L529.71 151.96 L529.87 152.10 L530.02 152.22 L530.18 152.32 L530.34 152.41 L530.50 152.47 L530.66 152.52 L530.82 152.54 L530.98 152.54 L531.13 152.54 L531.29 152.52 L531.45 152.50 L531.61 152.48 L531.77 152.45 L531.93 152.41 L532.09 152.37 L532.24 152.32 L532.40 152.27 L532.56 152.22 L532.72 152.16 L532.88 152.10 L533.04 152.04 L533.20 151.97 L533.35 151.90 L533.51 151.83 L533.67 151.75 L533.83 151.68 L533.99 151.60 L534.15 151.53 L534.31 151.45 L534.46 151.37 L534.62 151.30 L534.78 151.21 L534.94 151.12 L535.10 151.02 L535.26 150.90 L535.41 150.78 L535.57 150.65 L535.73 150.51 L535.89 150.36 L536.05 150.20 L536.21 150.04 L536.37 149.87 L536.52 149.69 L536.68 149.51 L536.84 149.31 L537.00 149.12 L537.16 148.92 L537.32 148.71 L537.48 148.50 L537.63 148.28 L537.79 148.06 L537.95 147.84 L538.11 147.62 L538.27 147.39 L538.43 147.16 L538.59 146.92 L538.74 146.69 L538.90 146.45 L539.06 146.21 L539.22 145.98 L539.38 145.74 L539.54 145.50 L539.70 145.26 L539.85 145.03 L540.01 144.79 L540.17 144.56 L540.33 144.33 L540.49 144.10 L540.65 143.87 L540.80 143.64 L540.96 143.42 L541.12 143.21 L541.28 142.99 L541.44 142.79 L541.60 142.58 L541.76 142.38 L541.91 142.19 L542.07 142.01 L542.23 141.83 L542.39 141.65 L542.55 141.48 L542.71 141.33 L542.87 141.17 L543.02 141.03 L543.18 140.90 L543.34 140.77 L543.50 140.65" stroke="#DF6B37" stroke-width="1.1"/>
</g>
<rect x="305.95" y="12.4" width="237.55" height="206.70" fill="none" stroke="#989898" stroke-width="0.8"/>
<path d="M305.70 219.1 v-2.4 M305.70 12.4 v2.4 M345.33 219.1 v-2.4 M345.33 12.4 v2.4 M384.97 219.1 v-2.4 M384.97 12.4 v2.4 M424.60 219.1 v-2.4 M424.60 12.4 v2.4 M464.23 219.1 v-2.4 M464.23 12.4 v2.4 M503.87 219.1 v-2.4 M503.87 12.4 v2.4 M543.50 219.1 v-2.4 M543.50 12.4 v2.4 M305.95 12.40 h2.4 M543.5 12.40 h-2.4 M305.95 33.07 h2.4 M543.5 33.07 h-2.4 M305.95 53.74 h2.4 M543.5 53.74 h-2.4 M305.95 74.41 h2.4 M543.5 74.41 h-2.4 M305.95 95.08 h2.4 M543.5 95.08 h-2.4 M305.95 115.75 h2.4 M543.5 115.75 h-2.4 M305.95 136.42 h2.4 M543.5 136.42 h-2.4 M305.95 157.09 h2.4 M543.5 157.09 h-2.4 M305.95 177.76 h2.4 M543.5 177.76 h-2.4 M305.95 198.43 h2.4 M543.5 198.43 h-2.4 M305.95 219.10 h2.4 M543.5 219.10 h-2.4 " stroke="#989898" stroke-width="0.8" fill="none"/>
<text class="tk" x="305.70" y="228.40" text-anchor="middle">7</text>
<text class="tk" x="345.33" y="228.40" text-anchor="middle">7.5</text>
<text class="tk" x="384.97" y="228.40" text-anchor="middle">8</text>
<text class="tk" x="424.60" y="228.40" text-anchor="middle">8.5</text>
<text class="tk" x="464.23" y="228.40" text-anchor="middle">9</text>
<text class="tk" x="503.87" y="228.40" text-anchor="middle">9.5</text>
<text class="tk" x="543.50" y="228.40" text-anchor="middle">10</text>
<text class="tk" x="303.45" y="14.90" text-anchor="end">850</text>
<text class="tk" x="303.45" y="35.57" text-anchor="end">800</text>
<text class="tk" x="303.45" y="56.24" text-anchor="end">750</text>
<text class="tk" x="303.45" y="76.91" text-anchor="end">700</text>
<text class="tk" x="303.45" y="97.58" text-anchor="end">650</text>
<text class="tk" x="303.45" y="118.25" text-anchor="end">600</text>
<text class="tk" x="303.45" y="138.92" text-anchor="end">550</text>
<text class="tk" x="303.45" y="159.59" text-anchor="end">500</text>
<text class="tk" x="303.45" y="180.26" text-anchor="end">450</text>
<text class="tk" x="303.45" y="200.93" text-anchor="end">400</text>
<text class="tk" x="303.45" y="221.60" text-anchor="end">350</text>
<text class="b" x="424.6" y="9.6" font-size="7.25" text-anchor="middle" fill="#1a1a1a">Signals</text>
<text class="b" x="424.6" y="238" font-size="7.3" text-anchor="middle" fill="#262626">time (sec)</text>
<text class="b" transform="translate(288.1 115.8) rotate(-90)" font-size="6.9" text-anchor="middle" fill="#262626">a.u</text>
<rect x="313.3" y="18.2" width="66.3" height="21.8" fill="#fff" stroke="#8a8a8a" stroke-width="0.6"/>
<path d="M315 24.9 H333.3" stroke="#2583C7" stroke-width="1.05"/>
<path d="M315 34.5 H333.3" stroke="#DF6B37" stroke-width="1.0"/>
<text class="b" x="335.6" y="27.5" font-size="7.2" fill="#111">ECG</text>
<text class="b" x="335.6" y="37.1" font-size="7.2" fill="#111">Microphone</text>
<circle cx="381.6" cy="59.2" r="4.9" fill="none" stroke="#F20D17" stroke-width="1.5"/>
<circle cx="440.1" cy="60.4" r="4.9" fill="none" stroke="#F20D17" stroke-width="1.5"/>
<circle cx="499.3" cy="60.4" r="4.9" fill="none" stroke="#F20D17" stroke-width="1.5"/>
<circle cx="375.5" cy="208.6" r="4.5" fill="none" stroke="#F20D17" stroke-width="1.5"/>
<circle cx="434.7" cy="208.6" r="4.5" fill="none" stroke="#F20D17" stroke-width="1.5"/>
<circle cx="493.7" cy="208.6" r="4.5" fill="none" stroke="#F20D17" stroke-width="1.5"/>
<circle cx="358.2" cy="120.2" r="4.9" fill="none" stroke="#4472C4" stroke-width="1.4"/>
<circle cx="418.0" cy="119.4" r="4.9" fill="none" stroke="#4472C4" stroke-width="1.4"/>
<circle cx="476.9" cy="121.4" r="4.9" fill="none" stroke="#4472C4" stroke-width="1.4"/>
<text class="b" x="422" y="50.9" font-size="10.8" fill="#F20D17" stroke="#F20D17" stroke-width="0.2">Peak 2</text>
<text class="b" x="384.5" y="212.4" font-size="10.4" fill="#F20D17" stroke="#F20D17" stroke-width="0.2">Peak 1</text>
<text class="b" x="335.6" y="107" font-size="10.6" letter-spacing="0.28" fill="#4472C4" stroke="#4472C4" stroke-width="0.2">R-peak</text>
<text class="b" x="359.6" y="138.7" font-size="10.4" fill="#000" stroke="#000" stroke-width="0.3">PTT2</text>
<text class="b" x="330" y="213.7" font-size="10.4" fill="#000" stroke="#000" stroke-width="0.3">PTT1</text>
<g stroke="#000" fill="#000">
<path d="M358.2 112 V125" stroke-width="1.2" stroke-dasharray="3 1.5" fill="none"/>
<path d="M381.4 112 V128.6" stroke-width="1.2" stroke-dasharray="3 1.5" fill="none"/>
<path d="M360 120.3 H379.6" stroke-width="1.3" fill="none"/>
<path d="M358.7 120.3 l3.8 -2 v4 z M380.9 120.3 l-3.8 -2 v4 z" stroke="none"/>
<path d="M358.2 204 V217.8" stroke-width="1.2" stroke-dasharray="3 1.5" fill="none"/>
<path d="M375.5 203.5 V217.6" stroke-width="1.2" stroke-dasharray="3 1.5" fill="none"/>
<path d="M360 212.6 H373.6" stroke-width="1.3" fill="none"/>
<path d="M358.7 212.6 l3.6 -1.9 v3.8 z M375 212.6 l-3.6 -1.9 v3.8 z" stroke="none"/>
</g>
</g>
<g fill="none" stroke="#000" stroke-width="1.5" stroke-dasharray="4 1.7">
<rect x="189.5" y="54.6" width="69.1" height="162.9" rx="8.5" ry="8.5"/>
<path d="M305.0 12.8 L255.2 55.5"/>
<path d="M304.2 218.5 L258.9 211.7"/>
</g>
<path d="M304.6 218.6 l-4.6 -2.6 l-0.6 3.9 z" fill="#000"/>
<path d="M305.3 12.5 l-1.6 3.4 l-2.2 -2.6 z" fill="#000"/>
</svg></body></html>
